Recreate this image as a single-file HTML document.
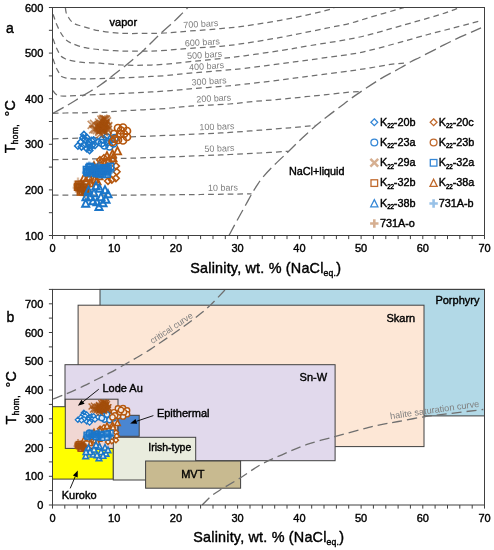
<!DOCTYPE html>
<html lang="en"><head><meta charset="utf-8"><title>Figure</title>
<style>html,body{margin:0;padding:0;background:#fff}svg{display:block;font-family:"Liberation Sans",Arial,sans-serif}text.k{stroke:#000;stroke-width:0.4px}</style>
</head><body>
<svg width="494" height="550" viewBox="0 0 494 550">
<rect width="494" height="550" fill="#ffffff"/>
<g fill="none" stroke="#6f6f6f" stroke-width="1.25" stroke-dasharray="5.7 4">
<path d="M65.4 7.9 C65.5 8.7 65.7 11.1 66.2 12.7 C66.8 14.3 67.8 16.2 68.7 17.7 C69.6 19.2 70.7 20.7 71.8 21.8 C72.9 22.9 73.9 23.4 75.3 24.1 C76.7 24.8 78.2 25.1 80.4 25.8 C82.6 26.5 85.2 27.2 88.5 28.1 C91.8 29.0 94.5 30.0 100.0 30.9 C105.5 31.8 114.5 32.9 121.8 33.3 C129.1 33.7 136.4 33.4 143.7 33.4 C151.0 33.4 157.8 33.4 165.5 33.0 C173.2 32.6 180.8 31.7 190.0 31.0 C199.2 30.3 211.5 29.4 220.6 28.6 C229.7 27.8 234.6 27.4 244.6 26.0 C254.6 24.6 269.4 22.3 280.4 20.3 C291.4 18.3 302.3 16.1 310.7 14.2 C319.1 12.3 327.1 10.1 331.0 9.1 C334.9 8.1 333.5 8.1 334.0 7.9"/>
<path d="M53.0 14.2 C53.3 14.9 54.0 17.0 54.6 18.7 C55.2 20.4 55.7 22.1 56.6 24.3 C57.5 26.5 59.0 29.6 60.1 31.6 C61.2 33.6 62.2 35.1 63.2 36.5 C64.2 37.9 65.0 39.0 66.2 40.0 C67.4 41.0 68.5 41.8 70.2 42.6 C71.9 43.5 73.8 44.2 76.3 45.1 C78.8 46.0 81.5 46.9 85.4 47.7 C89.4 48.5 93.9 49.2 100.0 49.7 C106.1 50.2 114.5 50.8 121.8 51.0 C129.1 51.2 136.4 51.3 143.7 51.2 C151.0 51.1 157.8 50.9 165.5 50.4 C173.2 49.9 180.8 49.0 190.0 48.3 C199.2 47.6 211.5 47.1 220.6 46.3 C229.7 45.5 234.6 44.8 244.6 43.3 C254.6 41.8 269.4 39.4 280.4 37.4 C291.4 35.4 302.3 33.1 310.7 31.4 C319.1 29.7 324.4 28.6 331.0 27.3 C337.6 26.0 343.4 25.0 350.0 23.3 C356.6 21.6 361.9 19.7 370.4 17.2 C378.8 14.7 395.3 10.1 400.7 8.5 C406.1 7.0 402.2 8.0 402.5 7.9"/>
<path d="M53.0 38.6 C53.3 39.4 54.0 41.6 54.6 43.2 C55.2 44.8 55.9 46.7 56.6 48.2 C57.3 49.7 57.9 50.9 58.6 52.3 C59.4 53.6 60.0 55.2 61.1 56.3 C62.2 57.4 63.7 58.1 65.2 58.8 C66.7 59.5 67.7 59.8 70.2 60.4 C72.7 61.0 77.0 61.8 80.4 62.2 C83.8 62.6 87.2 62.6 90.5 62.8 C93.8 63.0 94.8 62.8 100.0 63.2 C105.2 63.6 114.5 64.7 121.8 65.0 C129.1 65.3 136.4 65.3 143.7 65.2 C151.0 65.1 157.8 64.8 165.5 64.2 C173.2 63.6 180.4 62.6 190.0 61.6 C199.6 60.6 213.7 59.4 222.8 58.4 C231.9 57.4 235.0 57.1 244.6 55.8 C254.2 54.5 269.4 52.3 280.4 50.6 C291.4 48.9 299.6 47.4 310.7 45.5 C321.8 43.6 337.2 41.4 347.2 39.5 C357.1 37.6 361.5 36.7 370.4 34.4 C379.3 32.1 389.1 29.2 400.7 25.9 C412.3 22.6 430.5 17.5 440.0 14.6 C449.5 11.7 454.6 9.5 457.5 8.5"/>
<path d="M53.0 58.8 C53.3 59.6 54.0 61.8 54.6 63.4 C55.2 65.0 55.9 66.9 56.6 68.5 C57.4 70.1 58.3 71.7 59.1 73.0 C59.9 74.3 60.4 75.8 61.6 76.6 C62.8 77.4 64.2 77.7 66.2 78.1 C68.2 78.5 70.4 78.8 73.3 78.9 C76.2 79.0 79.0 79.0 83.4 78.9 C87.9 78.9 93.6 78.8 100.0 78.6 C106.4 78.4 114.5 78.1 121.8 77.8 C129.1 77.5 136.4 77.2 143.7 76.8 C151.0 76.4 157.8 76.2 165.5 75.6 C173.2 75.0 180.4 74.0 190.0 73.1 C199.6 72.2 213.7 71.2 222.8 70.4 C231.9 69.6 235.0 69.5 244.6 68.4 C254.2 67.3 269.4 65.2 280.4 63.8 C291.4 62.3 299.1 61.3 310.7 59.7 C322.3 58.1 340.1 55.9 350.0 54.3 C359.9 52.7 361.9 52.2 370.4 50.2 C378.8 48.2 392.3 44.4 400.7 42.1 C409.1 39.8 414.4 38.2 421.0 36.4 C427.6 34.6 430.3 33.9 440.0 31.4 C449.7 28.9 472.6 22.9 479.1 21.2"/>
<path d="M53.0 90.7 C53.5 91.3 54.6 93.4 56.0 94.3 C57.4 95.2 57.9 95.8 61.1 96.0 C64.3 96.2 68.8 95.9 75.3 95.6 C81.8 95.3 92.2 94.7 100.0 94.3 C107.8 93.9 114.5 93.7 121.8 93.4 C129.1 93.1 136.4 92.7 143.7 92.3 C151.0 91.9 157.8 91.6 165.5 91.0 C173.2 90.4 179.7 89.7 190.0 88.9 C200.3 88.1 218.0 86.8 227.1 86.0 C236.2 85.2 235.7 85.2 244.6 84.2 C253.5 83.2 269.4 81.4 280.4 80.0 C291.4 78.6 299.1 77.4 310.7 75.9 C322.3 74.4 340.1 72.2 350.0 70.9 C359.9 69.6 363.6 68.9 370.4 67.8 C377.2 66.7 384.5 65.2 390.6 64.4 C396.7 63.6 404.1 63.1 406.8 62.8"/>
<path d="M53.0 113.3 C55.0 113.2 57.4 113.2 65.2 113.0 C73.0 112.8 90.6 112.8 100.0 112.4 C109.4 112.1 114.5 111.3 121.8 110.9 C129.1 110.5 136.4 110.2 143.7 109.8 C151.0 109.4 157.8 109.1 165.5 108.5 C173.2 107.9 179.4 107.0 190.0 106.2 C200.6 105.5 218.4 104.8 229.3 104.0 C240.2 103.2 247.7 102.0 255.5 101.3 C263.3 100.6 267.1 100.4 276.3 99.6 C285.5 98.8 298.4 97.5 310.7 96.2 C323.0 95.0 341.8 92.9 350.0 92.1 C358.2 91.3 358.5 91.6 360.2 91.5"/>
<path d="M53.0 138.8 C60.8 138.6 85.5 138.1 100.0 137.7 C114.5 137.3 123.2 137.1 140.0 136.5 C156.8 135.9 185.7 134.6 200.7 133.9 C215.7 133.2 220.1 133.0 230.0 132.4 C239.9 131.8 250.0 131.0 260.0 130.2 C270.0 129.4 280.8 128.6 290.0 127.8 C299.2 127.0 311.2 125.7 315.4 125.3"/>
<path d="M53.0 159.7 C60.8 159.5 85.5 159.1 100.0 158.8 C114.5 158.5 123.2 158.4 140.0 157.9 C156.8 157.4 185.7 156.3 200.7 155.7 C215.7 155.1 220.1 154.9 230.0 154.5 C239.9 154.1 250.2 153.5 260.0 153.0 C269.8 152.5 283.8 151.6 288.5 151.3"/>
<path d="M53.0 195.2 C67.5 195.2 115.4 195.1 140.0 195.0 C164.6 194.9 182.1 194.7 200.7 194.5 C219.3 194.3 243.0 193.9 251.5 193.8"/>
</g>
<g fill="none" stroke="#6f6f6f" stroke-width="1.3" stroke-dasharray="12 5">
<path d="M53.0 113.3 C55.4 112.0 62.6 108.1 67.2 105.4 C71.8 102.7 74.9 100.7 80.4 97.3 C85.9 93.9 94.5 88.9 100.0 85.2 C105.5 81.5 108.4 79.0 113.1 75.3 C117.8 71.6 123.3 67.5 128.4 63.3 C133.5 59.1 138.6 54.9 143.7 50.2 C148.8 45.5 153.9 39.8 159.0 35.0 C164.1 30.2 170.3 24.9 174.2 21.3 C178.1 17.7 179.9 15.7 182.2 13.4 C184.5 11.1 186.9 8.6 187.8 7.6"/>
<path d="M229.0 235.5 C230.0 233.7 232.9 228.1 234.8 224.6 C236.7 221.1 238.6 217.7 240.5 214.3 C242.4 210.9 244.3 207.4 246.2 204.0 C248.1 200.6 250.1 196.8 251.9 193.7 C253.7 190.6 255.2 188.0 257.0 185.3 C258.8 182.6 260.0 180.6 262.8 177.3 C265.6 174.0 269.5 169.8 273.8 165.5 C278.1 161.2 283.8 156.0 288.5 151.5 C293.2 147.0 297.4 142.6 302.0 138.3 C306.6 134.0 311.8 129.1 316.0 125.5 C320.2 121.9 322.7 120.1 327.3 116.5 C331.9 112.9 340.1 106.9 343.9 104.0 C347.7 101.1 347.4 101.2 350.1 99.2 C352.8 97.2 355.1 95.5 360.2 92.1 C365.3 88.7 373.8 83.0 380.5 78.9 C387.2 74.9 395.6 70.7 400.7 67.8 C405.8 64.9 407.5 63.6 410.9 61.7 C414.3 59.9 416.1 59.2 421.0 56.7 C425.9 54.2 434.3 49.9 440.0 47.0 C445.7 44.1 448.2 42.7 455.0 39.5 C461.8 36.3 476.7 29.8 481.0 27.9"/>
</g>
<text x="183.6" y="28.2" font-size="9.0" fill="#7f7f7f" transform="rotate(-3.6 183.6 28.2)">700 bars</text>
<text x="185.0" y="46.4" font-size="9.0" fill="#7f7f7f" transform="rotate(-3.4 185.0 46.4)">600 bars</text>
<text x="187.3" y="59.1" font-size="9.0" fill="#7f7f7f" transform="rotate(-3.8 187.3 59.1)">500 bars</text>
<text x="189.2" y="70.4" font-size="9.0" fill="#7f7f7f" transform="rotate(-3.8 189.2 70.4)">400 bars</text>
<text x="191.8" y="85.5" font-size="9.0" fill="#7f7f7f" transform="rotate(-3.8 191.8 85.5)">300 bars</text>
<text x="196.4" y="102.4" font-size="9.0" fill="#7f7f7f" transform="rotate(-3.3 196.4 102.4)">200 bars</text>
<text x="199.5" y="130.3" font-size="9.0" fill="#7f7f7f" transform="rotate(-2 199.5 130.3)">100 bars</text>
<text x="204.4" y="152.0" font-size="9.0" fill="#7f7f7f" transform="rotate(-2 204.4 152.0)">50 bars</text>
<text x="208.0" y="191.0" font-size="9.0" fill="#7f7f7f" transform="rotate(-1 208.0 191.0)">10 bars</text>
<text x="109.6" y="25.8" font-size="11" fill="#000" class="k">vapor</text>
<text x="289" y="175.2" font-size="10.8" fill="#000" class="k">NaCl+liquid</text>
<path d="M83.9 131.4 l3.3 3.3 l-3.3 3.3 l-3.3 -3.3 z" fill="none" stroke="#1b76c9" stroke-width="1.5"/>
<path d="M83.0 134.6 l3.3 3.3 l-3.3 3.3 l-3.3 -3.3 z" fill="none" stroke="#1b76c9" stroke-width="1.5"/>
<path d="M80.9 138.8 l3.3 3.3 l-3.3 3.3 l-3.3 -3.3 z" fill="none" stroke="#1b76c9" stroke-width="1.5"/>
<path d="M77.9 142.6 l3.3 3.3 l-3.3 3.3 l-3.3 -3.3 z" fill="none" stroke="#1b76c9" stroke-width="1.5"/>
<path d="M86.5 134.0 l3.3 3.3 l-3.3 3.3 l-3.3 -3.3 z" fill="none" stroke="#1b76c9" stroke-width="1.5"/>
<path d="M84.9 136.4 l3.3 3.3 l-3.3 3.3 l-3.3 -3.3 z" fill="none" stroke="#1b76c9" stroke-width="1.5"/>
<path d="M84.0 141.7 l3.3 3.3 l-3.3 3.3 l-3.3 -3.3 z" fill="none" stroke="#1b76c9" stroke-width="1.5"/>
<path d="M81.5 143.5 l3.3 3.3 l-3.3 3.3 l-3.3 -3.3 z" fill="none" stroke="#1b76c9" stroke-width="1.5"/>
<path d="M91.5 137.2 l3.3 3.3 l-3.3 3.3 l-3.3 -3.3 z" fill="none" stroke="#1b76c9" stroke-width="1.5"/>
<path d="M89.6 139.0 l3.3 3.3 l-3.3 3.3 l-3.3 -3.3 z" fill="none" stroke="#1b76c9" stroke-width="1.5"/>
<path d="M88.9 141.4 l3.3 3.3 l-3.3 3.3 l-3.3 -3.3 z" fill="none" stroke="#1b76c9" stroke-width="1.5"/>
<path d="M86.8 145.3 l3.3 3.3 l-3.3 3.3 l-3.3 -3.3 z" fill="none" stroke="#1b76c9" stroke-width="1.5"/>
<path d="M93.6 136.8 l3.3 3.3 l-3.3 3.3 l-3.3 -3.3 z" fill="none" stroke="#1b76c9" stroke-width="1.5"/>
<path d="M92.3 141.8 l3.3 3.3 l-3.3 3.3 l-3.3 -3.3 z" fill="none" stroke="#1b76c9" stroke-width="1.5"/>
<path d="M90.2 144.4 l3.3 3.3 l-3.3 3.3 l-3.3 -3.3 z" fill="none" stroke="#1b76c9" stroke-width="1.5"/>
<path d="M89.6 147.1 l3.3 3.3 l-3.3 3.3 l-3.3 -3.3 z" fill="none" stroke="#1b76c9" stroke-width="1.5"/>
<path d="M98.0 138.5 l3.3 3.3 l-3.3 3.3 l-3.3 -3.3 z" fill="none" stroke="#1b76c9" stroke-width="1.5"/>
<path d="M95.0 142.0 l3.3 3.3 l-3.3 3.3 l-3.3 -3.3 z" fill="none" stroke="#1b76c9" stroke-width="1.5"/>
<path d="M116.0 162.7 l3.3 3.3 l-3.3 3.3 l-3.3 -3.3 z" fill="none" stroke="#b5570e" stroke-width="1.6"/>
<path d="M116.7 168.4 l3.3 3.3 l-3.3 3.3 l-3.3 -3.3 z" fill="none" stroke="#b5570e" stroke-width="1.6"/>
<path d="M115.9 174.9 l3.3 3.3 l-3.3 3.3 l-3.3 -3.3 z" fill="none" stroke="#b5570e" stroke-width="1.6"/>
<path d="M111.8 176.5 l3.3 3.3 l-3.3 3.3 l-3.3 -3.3 z" fill="none" stroke="#b5570e" stroke-width="1.6"/>
<path d="M104.0 154.7 l3.3 3.3 l-3.3 3.3 l-3.3 -3.3 z" fill="none" stroke="#b5570e" stroke-width="1.6"/>
<path d="M100.0 156.7 l3.3 3.3 l-3.3 3.3 l-3.3 -3.3 z" fill="none" stroke="#b5570e" stroke-width="1.6"/>
<path d="M112.0 156.7 l3.3 3.3 l-3.3 3.3 l-3.3 -3.3 z" fill="none" stroke="#b5570e" stroke-width="1.6"/>
<path d="M108.0 177.7 l3.3 3.3 l-3.3 3.3 l-3.3 -3.3 z" fill="none" stroke="#b5570e" stroke-width="1.6"/>
<circle cx="103.0" cy="139.5" r="3.5" fill="none" stroke="#1b76c9" stroke-width="1.7"/>
<circle cx="107.5" cy="142.0" r="3.5" fill="none" stroke="#1b76c9" stroke-width="1.7"/>
<circle cx="111.5" cy="139.0" r="3.5" fill="none" stroke="#1b76c9" stroke-width="1.7"/>
<circle cx="104.5" cy="145.5" r="3.5" fill="none" stroke="#1b76c9" stroke-width="1.7"/>
<circle cx="109.5" cy="146.5" r="3.5" fill="none" stroke="#1b76c9" stroke-width="1.7"/>
<circle cx="113.5" cy="143.5" r="3.5" fill="none" stroke="#1b76c9" stroke-width="1.7"/>
<circle cx="107.0" cy="137.5" r="3.5" fill="none" stroke="#1b76c9" stroke-width="1.7"/>
<circle cx="101.8" cy="143.0" r="3.5" fill="none" stroke="#1b76c9" stroke-width="1.7"/>
<circle cx="114.5" cy="138.0" r="3.5" fill="none" stroke="#1b76c9" stroke-width="1.7"/>
<circle cx="114.0" cy="134.0" r="3.5" fill="none" stroke="#b5570e" stroke-width="1.7"/>
<circle cx="118.0" cy="128.0" r="3.5" fill="none" stroke="#b5570e" stroke-width="1.7"/>
<circle cx="123.0" cy="127.5" r="3.5" fill="none" stroke="#b5570e" stroke-width="1.7"/>
<circle cx="127.0" cy="131.0" r="3.5" fill="none" stroke="#b5570e" stroke-width="1.7"/>
<circle cx="127.0" cy="137.0" r="3.5" fill="none" stroke="#b5570e" stroke-width="1.7"/>
<circle cx="123.0" cy="140.5" r="3.5" fill="none" stroke="#b5570e" stroke-width="1.7"/>
<circle cx="118.0" cy="140.0" r="3.5" fill="none" stroke="#b5570e" stroke-width="1.7"/>
<circle cx="120.0" cy="134.0" r="3.5" fill="none" stroke="#b5570e" stroke-width="1.7"/>
<circle cx="115.0" cy="139.0" r="3.5" fill="none" stroke="#b5570e" stroke-width="1.7"/>
<circle cx="124.0" cy="134.0" r="3.5" fill="none" stroke="#b5570e" stroke-width="1.7"/>
<circle cx="112.5" cy="142.0" r="3.5" fill="none" stroke="#b5570e" stroke-width="1.7"/>
<circle cx="121.0" cy="130.5" r="3.5" fill="none" stroke="#b5570e" stroke-width="1.7"/>
<path d="M117.5 147.1 l3.6 7.2 l-7.2 0 z" fill="none" stroke="#b5570e" stroke-width="1.8" stroke-linejoin="miter"/>
<path d="M112.5 150.1 l3.6 7.2 l-7.2 0 z" fill="none" stroke="#b5570e" stroke-width="1.8" stroke-linejoin="miter"/>
<path d="M109.0 156.1 l3.6 7.2 l-7.2 0 z" fill="none" stroke="#b5570e" stroke-width="1.8" stroke-linejoin="miter"/>
<path d="M105.0 159.1 l3.6 7.2 l-7.2 0 z" fill="none" stroke="#b5570e" stroke-width="1.8" stroke-linejoin="miter"/>
<path d="M100.0 159.1 l3.6 7.2 l-7.2 0 z" fill="none" stroke="#b5570e" stroke-width="1.8" stroke-linejoin="miter"/>
<path d="M103.0 164.1 l3.6 7.2 l-7.2 0 z" fill="none" stroke="#b5570e" stroke-width="1.8" stroke-linejoin="miter"/>
<path d="M97.0 166.1 l3.6 7.2 l-7.2 0 z" fill="none" stroke="#b5570e" stroke-width="1.8" stroke-linejoin="miter"/>
<path d="M94.0 162.1 l3.6 7.2 l-7.2 0 z" fill="none" stroke="#b5570e" stroke-width="1.8" stroke-linejoin="miter"/>
<path d="M92.0 169.1 l3.6 7.2 l-7.2 0 z" fill="none" stroke="#b5570e" stroke-width="1.8" stroke-linejoin="miter"/>
<path d="M89.0 173.1 l3.6 7.2 l-7.2 0 z" fill="none" stroke="#b5570e" stroke-width="1.8" stroke-linejoin="miter"/>
<path d="M86.0 177.1 l3.6 7.2 l-7.2 0 z" fill="none" stroke="#b5570e" stroke-width="1.8" stroke-linejoin="miter"/>
<path d="M90.0 179.1 l3.6 7.2 l-7.2 0 z" fill="none" stroke="#b5570e" stroke-width="1.8" stroke-linejoin="miter"/>
<path d="M95.0 175.1 l3.6 7.2 l-7.2 0 z" fill="none" stroke="#b5570e" stroke-width="1.8" stroke-linejoin="miter"/>
<path d="M99.0 172.1 l3.6 7.2 l-7.2 0 z" fill="none" stroke="#b5570e" stroke-width="1.8" stroke-linejoin="miter"/>
<path d="M107.0 152.1 l3.6 7.2 l-7.2 0 z" fill="none" stroke="#b5570e" stroke-width="1.8" stroke-linejoin="miter"/>
<path d="M113.0 154.1 l3.6 7.2 l-7.2 0 z" fill="none" stroke="#b5570e" stroke-width="1.8" stroke-linejoin="miter"/>
<path d="M84.0 174.1 l3.6 7.2 l-7.2 0 z" fill="none" stroke="#b5570e" stroke-width="1.8" stroke-linejoin="miter"/>
<path d="M97.0 177.1 l3.6 7.2 l-7.2 0 z" fill="none" stroke="#b5570e" stroke-width="1.8" stroke-linejoin="miter"/>
<rect x="94.1" y="165.0" width="6.4" height="6.4" fill="none" stroke="#1b76c9" stroke-width="1.6"/>
<rect x="102.7" y="168.6" width="6.4" height="6.4" fill="none" stroke="#1b76c9" stroke-width="1.6"/>
<rect x="88.9" y="167.5" width="6.4" height="6.4" fill="none" stroke="#1b76c9" stroke-width="1.6"/>
<rect x="95.9" y="170.2" width="6.4" height="6.4" fill="none" stroke="#1b76c9" stroke-width="1.6"/>
<rect x="101.0" y="164.9" width="6.4" height="6.4" fill="none" stroke="#1b76c9" stroke-width="1.6"/>
<rect x="107.3" y="163.4" width="6.4" height="6.4" fill="none" stroke="#1b76c9" stroke-width="1.6"/>
<rect x="93.3" y="169.1" width="6.4" height="6.4" fill="none" stroke="#1b76c9" stroke-width="1.6"/>
<rect x="86.6" y="166.7" width="6.4" height="6.4" fill="none" stroke="#1b76c9" stroke-width="1.6"/>
<rect x="83.8" y="168.3" width="6.4" height="6.4" fill="none" stroke="#1b76c9" stroke-width="1.6"/>
<rect x="101.9" y="167.5" width="6.4" height="6.4" fill="none" stroke="#1b76c9" stroke-width="1.6"/>
<rect x="104.7" y="165.1" width="6.4" height="6.4" fill="none" stroke="#1b76c9" stroke-width="1.6"/>
<rect x="100.2" y="167.6" width="6.4" height="6.4" fill="none" stroke="#1b76c9" stroke-width="1.6"/>
<rect x="97.3" y="166.4" width="6.4" height="6.4" fill="none" stroke="#1b76c9" stroke-width="1.6"/>
<rect x="103.8" y="170.8" width="6.4" height="6.4" fill="none" stroke="#1b76c9" stroke-width="1.6"/>
<rect x="94.7" y="168.3" width="6.4" height="6.4" fill="none" stroke="#1b76c9" stroke-width="1.6"/>
<rect x="84.3" y="168.6" width="6.4" height="6.4" fill="none" stroke="#1b76c9" stroke-width="1.6"/>
<rect x="99.0" y="171.2" width="6.4" height="6.4" fill="none" stroke="#1b76c9" stroke-width="1.6"/>
<rect x="103.3" y="164.9" width="6.4" height="6.4" fill="none" stroke="#1b76c9" stroke-width="1.6"/>
<rect x="92.4" y="168.3" width="6.4" height="6.4" fill="none" stroke="#1b76c9" stroke-width="1.6"/>
<rect x="83.4" y="166.5" width="6.4" height="6.4" fill="none" stroke="#1b76c9" stroke-width="1.6"/>
<rect x="87.0" y="163.4" width="6.4" height="6.4" fill="none" stroke="#1b76c9" stroke-width="1.6"/>
<rect x="84.3" y="169.2" width="6.4" height="6.4" fill="none" stroke="#1b76c9" stroke-width="1.6"/>
<rect x="86.0" y="164.5" width="6.4" height="6.4" fill="none" stroke="#1b76c9" stroke-width="1.6"/>
<rect x="92.6" y="170.1" width="6.4" height="6.4" fill="none" stroke="#1b76c9" stroke-width="1.6"/>
<rect x="74.6" y="183.7" width="6.4" height="6.4" fill="none" stroke="#b5570e" stroke-width="1.7"/>
<rect x="79.3" y="188.5" width="6.4" height="6.4" fill="none" stroke="#b5570e" stroke-width="1.7"/>
<rect x="82.0" y="188.3" width="6.4" height="6.4" fill="none" stroke="#b5570e" stroke-width="1.7"/>
<rect x="76.6" y="183.4" width="6.4" height="6.4" fill="none" stroke="#b5570e" stroke-width="1.7"/>
<rect x="77.4" y="188.5" width="6.4" height="6.4" fill="none" stroke="#b5570e" stroke-width="1.7"/>
<rect x="83.4" y="180.5" width="6.4" height="6.4" fill="none" stroke="#b5570e" stroke-width="1.7"/>
<rect x="75.6" y="181.4" width="6.4" height="6.4" fill="none" stroke="#b5570e" stroke-width="1.7"/>
<rect x="76.1" y="184.1" width="6.4" height="6.4" fill="none" stroke="#b5570e" stroke-width="1.7"/>
<path d="M93.6 122.6 l8.0 8.0 M101.6 122.6 l-8.0 8.0" fill="none" stroke="#a34e0c" stroke-width="1.7" opacity="0.6"/>
<path d="M101.9 120.1 l8.0 8.0 M109.9 120.1 l-8.0 8.0" fill="none" stroke="#a34e0c" stroke-width="1.7" opacity="0.6"/>
<path d="M95.3 127.9 l8.0 8.0 M103.3 127.9 l-8.0 8.0" fill="none" stroke="#a34e0c" stroke-width="1.7" opacity="0.6"/>
<path d="M102.9 117.4 l8.0 8.0 M110.9 117.4 l-8.0 8.0" fill="none" stroke="#a34e0c" stroke-width="1.7" opacity="0.6"/>
<path d="M91.0 125.3 l8.0 8.0 M99.0 125.3 l-8.0 8.0" fill="none" stroke="#a34e0c" stroke-width="1.7" opacity="0.6"/>
<path d="M96.1 121.8 l8.0 8.0 M104.1 121.8 l-8.0 8.0" fill="none" stroke="#a34e0c" stroke-width="1.7" opacity="0.6"/>
<path d="M101.5 115.5 l8.0 8.0 M109.5 115.5 l-8.0 8.0" fill="none" stroke="#a34e0c" stroke-width="1.7" opacity="0.6"/>
<path d="M100.4 115.0 l8.0 8.0 M108.4 115.0 l-8.0 8.0" fill="none" stroke="#a34e0c" stroke-width="1.7" opacity="0.6"/>
<path d="M95.1 126.6 l8.0 8.0 M103.1 126.6 l-8.0 8.0" fill="none" stroke="#a34e0c" stroke-width="1.7" opacity="0.6"/>
<path d="M103.9 122.8 l8.0 8.0 M111.9 122.8 l-8.0 8.0" fill="none" stroke="#a34e0c" stroke-width="1.7" opacity="0.6"/>
<path d="M99.1 122.2 l8.0 8.0 M107.1 122.2 l-8.0 8.0" fill="none" stroke="#a34e0c" stroke-width="1.7" opacity="0.6"/>
<path d="M99.1 124.2 l8.0 8.0 M107.1 124.2 l-8.0 8.0" fill="none" stroke="#a34e0c" stroke-width="1.7" opacity="0.6"/>
<path d="M97.1 123.9 l8.0 8.0 M105.1 123.9 l-8.0 8.0" fill="none" stroke="#a34e0c" stroke-width="1.7" opacity="0.6"/>
<path d="M99.8 121.1 l8.0 8.0 M107.8 121.1 l-8.0 8.0" fill="none" stroke="#a34e0c" stroke-width="1.7" opacity="0.6"/>
<path d="M101.7 122.7 l8.0 8.0 M109.7 122.7 l-8.0 8.0" fill="none" stroke="#a34e0c" stroke-width="1.7" opacity="0.6"/>
<path d="M94.7 122.2 l8.0 8.0 M102.7 122.2 l-8.0 8.0" fill="none" stroke="#a34e0c" stroke-width="1.7" opacity="0.6"/>
<path d="M99.0 125.8 l8.0 8.0 M107.0 125.8 l-8.0 8.0" fill="none" stroke="#a34e0c" stroke-width="1.7" opacity="0.6"/>
<path d="M96.6 124.7 l8.0 8.0 M104.6 124.7 l-8.0 8.0" fill="none" stroke="#a34e0c" stroke-width="1.7" opacity="0.6"/>
<path d="M92.8 126.1 l8.0 8.0 M100.8 126.1 l-8.0 8.0" fill="none" stroke="#a34e0c" stroke-width="1.7" opacity="0.6"/>
<path d="M99.5 122.4 l8.0 8.0 M107.5 122.4 l-8.0 8.0" fill="none" stroke="#a34e0c" stroke-width="1.7" opacity="0.6"/>
<path d="M96.7 125.8 l8.0 8.0 M104.7 125.8 l-8.0 8.0" fill="none" stroke="#a34e0c" stroke-width="1.7" opacity="0.6"/>
<path d="M97.5 120.0 l8.0 8.0 M105.5 120.0 l-8.0 8.0" fill="none" stroke="#a34e0c" stroke-width="1.7" opacity="0.6"/>
<path d="M94.7 123.5 l8.0 8.0 M102.7 123.5 l-8.0 8.0" fill="none" stroke="#a34e0c" stroke-width="1.7" opacity="0.6"/>
<path d="M96.2 122.8 l8.0 8.0 M104.2 122.8 l-8.0 8.0" fill="none" stroke="#a34e0c" stroke-width="1.7" opacity="0.6"/>
<path d="M99.5 116.0 l8.0 8.0 M107.5 116.0 l-8.0 8.0" fill="none" stroke="#a34e0c" stroke-width="1.7" opacity="0.6"/>
<path d="M98.8 126.0 l8.0 8.0 M106.8 126.0 l-8.0 8.0" fill="none" stroke="#a34e0c" stroke-width="1.7" opacity="0.6"/>
<path d="M103.9 125.7 l8.0 8.0 M111.9 125.7 l-8.0 8.0" fill="none" stroke="#a34e0c" stroke-width="1.7" opacity="0.6"/>
<path d="M89.2 125.3 l8.0 8.0 M97.2 125.3 l-8.0 8.0" fill="none" stroke="#a34e0c" stroke-width="1.7" opacity="0.6"/>
<path d="M97.0 125.5 l8.0 8.0 M105.0 125.5 l-8.0 8.0" fill="none" stroke="#a34e0c" stroke-width="1.7" opacity="0.6"/>
<path d="M99.3 114.8 l8.0 8.0 M107.3 114.8 l-8.0 8.0" fill="none" stroke="#a34e0c" stroke-width="1.7" opacity="0.6"/>
<path d="M97.4 115.6 l8.0 8.0 M105.4 115.6 l-8.0 8.0" fill="none" stroke="#a34e0c" stroke-width="1.7" opacity="0.6"/>
<path d="M100.4 126.3 l8.0 8.0 M108.4 126.3 l-8.0 8.0" fill="none" stroke="#a34e0c" stroke-width="1.7" opacity="0.6"/>
<path d="M97.0 123.5 l8.0 8.0 M105.0 123.5 l-8.0 8.0" fill="none" stroke="#a34e0c" stroke-width="1.7" opacity="0.6"/>
<path d="M101.1 121.1 l8.0 8.0 M109.1 121.1 l-8.0 8.0" fill="none" stroke="#a34e0c" stroke-width="1.7" opacity="0.6"/>
<path d="M99.9 128.1 l8.0 8.0 M107.9 128.1 l-8.0 8.0" fill="none" stroke="#a34e0c" stroke-width="1.7" opacity="0.6"/>
<path d="M101.3 119.0 l8.0 8.0 M109.3 119.0 l-8.0 8.0" fill="none" stroke="#a34e0c" stroke-width="1.7" opacity="0.6"/>
<path d="M100.8 119.4 l8.0 8.0 M108.8 119.4 l-8.0 8.0" fill="none" stroke="#a34e0c" stroke-width="1.7" opacity="0.6"/>
<path d="M99.2 124.7 l8.0 8.0 M107.2 124.7 l-8.0 8.0" fill="none" stroke="#a34e0c" stroke-width="1.7" opacity="0.6"/>
<path d="M99.5 124.2 l8.0 8.0 M107.5 124.2 l-8.0 8.0" fill="none" stroke="#a34e0c" stroke-width="1.7" opacity="0.6"/>
<path d="M87.7 120.9 l8.0 8.0 M95.7 120.9 l-8.0 8.0" fill="none" stroke="#a34e0c" stroke-width="1.7" opacity="0.6"/>
<path d="M98.2 117.6 l8.0 8.0 M106.2 117.6 l-8.0 8.0" fill="none" stroke="#a34e0c" stroke-width="1.7" opacity="0.6"/>
<path d="M90.0 119.8 l8.0 8.0 M98.0 119.8 l-8.0 8.0" fill="none" stroke="#a34e0c" stroke-width="1.7" opacity="0.6"/>
<path d="M104.3 122.1 l8.0 8.0 M112.3 122.1 l-8.0 8.0" fill="none" stroke="#a34e0c" stroke-width="1.7" opacity="0.6"/>
<path d="M102.0 115.7 l8.0 8.0 M110.0 115.7 l-8.0 8.0" fill="none" stroke="#a34e0c" stroke-width="1.7" opacity="0.6"/>
<path d="M95.1 118.5 l8.0 8.0 M103.1 118.5 l-8.0 8.0" fill="none" stroke="#a34e0c" stroke-width="1.7" opacity="0.6"/>
<path d="M103.7 126.2 l8.0 8.0 M111.7 126.2 l-8.0 8.0" fill="none" stroke="#a34e0c" stroke-width="1.7" opacity="0.6"/>
<path d="M96.4 130.1 l8.0 8.0 M104.4 130.1 l-8.0 8.0" fill="none" stroke="#a34e0c" stroke-width="1.7" opacity="0.6"/>
<path d="M101.3 119.5 l8.0 8.0 M109.3 119.5 l-8.0 8.0" fill="none" stroke="#a34e0c" stroke-width="1.7" opacity="0.6"/>
<path d="M95.7 120.6 l8.0 8.0 M103.7 120.6 l-8.0 8.0" fill="none" stroke="#a34e0c" stroke-width="1.7" opacity="0.6"/>
<path d="M99.8 123.0 l8.0 8.0 M107.8 123.0 l-8.0 8.0" fill="none" stroke="#a34e0c" stroke-width="1.7" opacity="0.6"/>
<path d="M104.4 172.8 h8.4 M108.6 168.6 v8.4" fill="none" stroke="#1b76c9" stroke-width="2.4" opacity="0.5"/>
<path d="M85.5 172.9 h8.4 M89.7 168.7 v8.4" fill="none" stroke="#1b76c9" stroke-width="2.4" opacity="0.5"/>
<path d="M106.3 171.4 h8.4 M110.5 167.2 v8.4" fill="none" stroke="#1b76c9" stroke-width="2.4" opacity="0.5"/>
<path d="M90.6 170.4 h8.4 M94.8 166.2 v8.4" fill="none" stroke="#1b76c9" stroke-width="2.4" opacity="0.5"/>
<path d="M85.1 165.6 h8.4 M89.3 161.4 v8.4" fill="none" stroke="#1b76c9" stroke-width="2.4" opacity="0.5"/>
<path d="M106.1 171.3 h8.4 M110.3 167.1 v8.4" fill="none" stroke="#1b76c9" stroke-width="2.4" opacity="0.5"/>
<path d="M95.0 173.9 h8.4 M99.2 169.7 v8.4" fill="none" stroke="#1b76c9" stroke-width="2.4" opacity="0.5"/>
<path d="M92.6 173.3 h8.4 M96.8 169.1 v8.4" fill="none" stroke="#1b76c9" stroke-width="2.4" opacity="0.5"/>
<path d="M102.5 167.4 h8.4 M106.7 163.2 v8.4" fill="none" stroke="#1b76c9" stroke-width="2.4" opacity="0.5"/>
<path d="M88.1 168.1 h8.4 M92.3 163.9 v8.4" fill="none" stroke="#1b76c9" stroke-width="2.4" opacity="0.5"/>
<path d="M87.8 170.8 h8.4 M92.0 166.6 v8.4" fill="none" stroke="#1b76c9" stroke-width="2.4" opacity="0.5"/>
<path d="M88.3 169.3 h8.4 M92.5 165.1 v8.4" fill="none" stroke="#1b76c9" stroke-width="2.4" opacity="0.5"/>
<path d="M85.1 173.7 h8.4 M89.3 169.5 v8.4" fill="none" stroke="#1b76c9" stroke-width="2.4" opacity="0.5"/>
<path d="M90.6 169.6 h8.4 M94.8 165.4 v8.4" fill="none" stroke="#1b76c9" stroke-width="2.4" opacity="0.5"/>
<path d="M96.4 173.6 h8.4 M100.6 169.4 v8.4" fill="none" stroke="#1b76c9" stroke-width="2.4" opacity="0.5"/>
<path d="M92.3 173.8 h8.4 M96.5 169.6 v8.4" fill="none" stroke="#1b76c9" stroke-width="2.4" opacity="0.5"/>
<path d="M94.3 170.3 h8.4 M98.5 166.1 v8.4" fill="none" stroke="#1b76c9" stroke-width="2.4" opacity="0.5"/>
<path d="M94.9 165.7 h8.4 M99.1 161.5 v8.4" fill="none" stroke="#1b76c9" stroke-width="2.4" opacity="0.5"/>
<path d="M92.8 167.1 h8.4 M97.0 162.9 v8.4" fill="none" stroke="#1b76c9" stroke-width="2.4" opacity="0.5"/>
<path d="M81.9 172.7 h8.4 M86.1 168.5 v8.4" fill="none" stroke="#1b76c9" stroke-width="2.4" opacity="0.5"/>
<path d="M86.1 169.8 h8.4 M90.3 165.6 v8.4" fill="none" stroke="#1b76c9" stroke-width="2.4" opacity="0.5"/>
<path d="M99.9 170.5 h8.4 M104.1 166.3 v8.4" fill="none" stroke="#1b76c9" stroke-width="2.4" opacity="0.5"/>
<path d="M89.9 170.2 h8.4 M94.1 166.0 v8.4" fill="none" stroke="#1b76c9" stroke-width="2.4" opacity="0.5"/>
<path d="M95.7 172.6 h8.4 M99.9 168.4 v8.4" fill="none" stroke="#1b76c9" stroke-width="2.4" opacity="0.5"/>
<path d="M84.5 170.5 h8.4 M88.7 166.3 v8.4" fill="none" stroke="#1b76c9" stroke-width="2.4" opacity="0.5"/>
<path d="M88.0 168.0 h8.4 M92.2 163.8 v8.4" fill="none" stroke="#1b76c9" stroke-width="2.4" opacity="0.5"/>
<path d="M101.1 170.1 h8.4 M105.3 165.9 v8.4" fill="none" stroke="#1b76c9" stroke-width="2.4" opacity="0.5"/>
<path d="M95.8 172.3 h8.4 M100.0 168.1 v8.4" fill="none" stroke="#1b76c9" stroke-width="2.4" opacity="0.5"/>
<path d="M104.6 169.5 h8.4 M108.8 165.3 v8.4" fill="none" stroke="#1b76c9" stroke-width="2.4" opacity="0.5"/>
<path d="M97.1 170.0 h8.4 M101.3 165.8 v8.4" fill="none" stroke="#1b76c9" stroke-width="2.4" opacity="0.5"/>
<path d="M72.6 187.6 h8.4 M76.8 183.4 v8.4" fill="none" stroke="#a34e0c" stroke-width="2.3" opacity="0.38"/>
<path d="M73.9 189.9 h8.4 M78.1 185.7 v8.4" fill="none" stroke="#a34e0c" stroke-width="2.3" opacity="0.38"/>
<path d="M80.7 186.9 h8.4 M84.9 182.7 v8.4" fill="none" stroke="#a34e0c" stroke-width="2.3" opacity="0.38"/>
<path d="M79.1 186.0 h8.4 M83.3 181.8 v8.4" fill="none" stroke="#a34e0c" stroke-width="2.3" opacity="0.38"/>
<path d="M80.9 191.8 h8.4 M85.1 187.6 v8.4" fill="none" stroke="#a34e0c" stroke-width="2.3" opacity="0.38"/>
<path d="M80.5 189.8 h8.4 M84.7 185.6 v8.4" fill="none" stroke="#a34e0c" stroke-width="2.3" opacity="0.38"/>
<path d="M82.9 191.4 h8.4 M87.1 187.2 v8.4" fill="none" stroke="#a34e0c" stroke-width="2.3" opacity="0.38"/>
<path d="M81.3 194.5 h8.4 M85.5 190.3 v8.4" fill="none" stroke="#a34e0c" stroke-width="2.3" opacity="0.38"/>
<path d="M77.0 185.9 h8.4 M81.2 181.7 v8.4" fill="none" stroke="#a34e0c" stroke-width="2.3" opacity="0.38"/>
<path d="M74.8 191.5 h8.4 M79.0 187.3 v8.4" fill="none" stroke="#a34e0c" stroke-width="2.3" opacity="0.38"/>
<path d="M80.1 192.5 h8.4 M84.3 188.3 v8.4" fill="none" stroke="#a34e0c" stroke-width="2.3" opacity="0.38"/>
<path d="M74.8 187.8 h8.4 M79.0 183.6 v8.4" fill="none" stroke="#a34e0c" stroke-width="2.3" opacity="0.38"/>
<path d="M79.2 192.2 h8.4 M83.4 188.0 v8.4" fill="none" stroke="#a34e0c" stroke-width="2.3" opacity="0.38"/>
<path d="M78.0 187.3 h8.4 M82.2 183.1 v8.4" fill="none" stroke="#a34e0c" stroke-width="2.3" opacity="0.38"/>
<path d="M74.4 186.5 h8.4 M78.6 182.3 v8.4" fill="none" stroke="#a34e0c" stroke-width="2.3" opacity="0.38"/>
<path d="M81.3 188.7 h8.4 M85.5 184.5 v8.4" fill="none" stroke="#a34e0c" stroke-width="2.3" opacity="0.38"/>
<path d="M75.0 184.2 h8.4 M79.2 180.0 v8.4" fill="none" stroke="#a34e0c" stroke-width="2.3" opacity="0.38"/>
<path d="M80.3 190.5 h8.4 M84.5 186.3 v8.4" fill="none" stroke="#a34e0c" stroke-width="2.3" opacity="0.38"/>
<path d="M84.2 190.3 h8.4 M88.4 186.1 v8.4" fill="none" stroke="#a34e0c" stroke-width="2.3" opacity="0.38"/>
<path d="M77.9 190.7 h8.4 M82.1 186.5 v8.4" fill="none" stroke="#a34e0c" stroke-width="2.3" opacity="0.38"/>
<path d="M79.3 184.8 h8.4 M83.5 180.6 v8.4" fill="none" stroke="#a34e0c" stroke-width="2.3" opacity="0.38"/>
<path d="M73.1 185.0 h8.4 M77.3 180.8 v8.4" fill="none" stroke="#a34e0c" stroke-width="2.3" opacity="0.38"/>
<path d="M79.1 189.1 h8.4 M83.3 184.9 v8.4" fill="none" stroke="#a34e0c" stroke-width="2.3" opacity="0.38"/>
<path d="M76.7 183.5 h8.4 M80.9 179.3 v8.4" fill="none" stroke="#a34e0c" stroke-width="2.3" opacity="0.38"/>
<path d="M73.8 181.7 h8.4 M78.0 177.5 v8.4" fill="none" stroke="#a34e0c" stroke-width="2.3" opacity="0.38"/>
<path d="M84.2 192.9 h8.4 M88.4 188.7 v8.4" fill="none" stroke="#a34e0c" stroke-width="2.3" opacity="0.38"/>
<path d="M75.0 189.5 h8.4 M79.2 185.3 v8.4" fill="none" stroke="#a34e0c" stroke-width="2.3" opacity="0.38"/>
<path d="M77.9 190.7 h8.4 M82.1 186.5 v8.4" fill="none" stroke="#a34e0c" stroke-width="2.3" opacity="0.38"/>
<path d="M75.5 187.6 h8.4 M79.7 183.4 v8.4" fill="none" stroke="#a34e0c" stroke-width="2.3" opacity="0.38"/>
<path d="M79.8 190.0 h8.4 M84.0 185.8 v8.4" fill="none" stroke="#a34e0c" stroke-width="2.3" opacity="0.38"/>
<path d="M80.4 189.2 h8.4 M84.6 185.0 v8.4" fill="none" stroke="#a34e0c" stroke-width="2.3" opacity="0.38"/>
<path d="M76.9 192.0 h8.4 M81.1 187.8 v8.4" fill="none" stroke="#a34e0c" stroke-width="2.3" opacity="0.38"/>
<path d="M78.3 184.2 h8.4 M82.5 180.0 v8.4" fill="none" stroke="#a34e0c" stroke-width="2.3" opacity="0.38"/>
<path d="M75.8 188.2 h8.4 M80.0 184.0 v8.4" fill="none" stroke="#a34e0c" stroke-width="2.3" opacity="0.38"/>
<path d="M77.7 189.0 h8.4 M81.9 184.8 v8.4" fill="none" stroke="#a34e0c" stroke-width="2.3" opacity="0.38"/>
<path d="M78.1 189.0 h8.4 M82.3 184.8 v8.4" fill="none" stroke="#a34e0c" stroke-width="2.3" opacity="0.38"/>
<path d="M85.7 199.6 l3.6 7.2 l-7.2 0 z" fill="none" stroke="#1b76c9" stroke-width="1.9" stroke-linejoin="miter"/>
<path d="M99.0 202.8 l3.6 7.2 l-7.2 0 z" fill="none" stroke="#1b76c9" stroke-width="1.9" stroke-linejoin="miter"/>
<path d="M93.0 197.1 l3.6 7.2 l-7.2 0 z" fill="none" stroke="#1b76c9" stroke-width="1.9" stroke-linejoin="miter"/>
<path d="M106.0 195.6 l3.6 7.2 l-7.2 0 z" fill="none" stroke="#1b76c9" stroke-width="1.9" stroke-linejoin="miter"/>
<path d="M88.5 186.6 l3.6 7.2 l-7.2 0 z" fill="none" stroke="#1b76c9" stroke-width="1.9" stroke-linejoin="miter"/>
<path d="M99.5 184.6 l3.6 7.2 l-7.2 0 z" fill="none" stroke="#1b76c9" stroke-width="1.9" stroke-linejoin="miter"/>
<path d="M105.0 186.1 l3.6 7.2 l-7.2 0 z" fill="none" stroke="#1b76c9" stroke-width="1.9" stroke-linejoin="miter"/>
<path d="M94.0 189.1 l3.6 7.2 l-7.2 0 z" fill="none" stroke="#1b76c9" stroke-width="1.9" stroke-linejoin="miter"/>
<path d="M101.0 193.1 l3.6 7.2 l-7.2 0 z" fill="none" stroke="#1b76c9" stroke-width="1.9" stroke-linejoin="miter"/>
<path d="M90.0 193.1 l3.6 7.2 l-7.2 0 z" fill="none" stroke="#1b76c9" stroke-width="1.9" stroke-linejoin="miter"/>
<path d="M96.0 182.1 l3.6 7.2 l-7.2 0 z" fill="none" stroke="#1b76c9" stroke-width="1.9" stroke-linejoin="miter"/>
<path d="M103.0 199.1 l3.6 7.2 l-7.2 0 z" fill="none" stroke="#1b76c9" stroke-width="1.9" stroke-linejoin="miter"/>
<path d="M86.0 193.1 l3.6 7.2 l-7.2 0 z" fill="none" stroke="#1b76c9" stroke-width="1.9" stroke-linejoin="miter"/>
<path d="M108.0 190.1 l3.6 7.2 l-7.2 0 z" fill="none" stroke="#1b76c9" stroke-width="1.9" stroke-linejoin="miter"/>
<path d="M97.0 198.1 l3.6 7.2 l-7.2 0 z" fill="none" stroke="#1b76c9" stroke-width="1.9" stroke-linejoin="miter"/>
<rect x="52.5" y="7.5" width="432.0" height="228.0" fill="none" stroke="#404040" stroke-width="1"/>
<path d="M52.5 235.5 v3.6 M64.8 235.5 v3.6 M77.2 235.5 v3.6 M89.5 235.5 v3.6 M101.9 235.5 v3.6 M114.2 235.5 v3.6 M126.6 235.5 v3.6 M138.9 235.5 v3.6 M151.2 235.5 v3.6 M163.6 235.5 v3.6 M175.9 235.5 v3.6 M188.3 235.5 v3.6 M200.6 235.5 v3.6 M213.0 235.5 v3.6 M225.3 235.5 v3.6 M237.6 235.5 v3.6 M250.0 235.5 v3.6 M262.3 235.5 v3.6 M274.7 235.5 v3.6 M287.0 235.5 v3.6 M299.4 235.5 v3.6 M311.7 235.5 v3.6 M324.0 235.5 v3.6 M336.4 235.5 v3.6 M348.7 235.5 v3.6 M361.1 235.5 v3.6 M373.4 235.5 v3.6 M385.8 235.5 v3.6 M398.1 235.5 v3.6 M410.4 235.5 v3.6 M422.8 235.5 v3.6 M435.1 235.5 v3.6 M447.5 235.5 v3.6 M459.8 235.5 v3.6 M472.2 235.5 v3.6 M484.5 235.5 v3.6 M52.5 235.5 h-3.6 M52.5 212.7 h-3.6 M52.5 189.9 h-3.6 M52.5 167.1 h-3.6 M52.5 144.3 h-3.6 M52.5 121.5 h-3.6 M52.5 98.7 h-3.6 M52.5 75.9 h-3.6 M52.5 53.1 h-3.6 M52.5 30.3 h-3.6 M52.5 7.5 h-3.6" stroke="#404040" stroke-width="1" fill="none"/>
<text x="52.5" y="252.3" font-size="11" text-anchor="middle" fill="#000" class="k">0</text>
<text x="114.2" y="252.3" font-size="11" text-anchor="middle" fill="#000" class="k">10</text>
<text x="175.9" y="252.3" font-size="11" text-anchor="middle" fill="#000" class="k">20</text>
<text x="237.6" y="252.3" font-size="11" text-anchor="middle" fill="#000" class="k">30</text>
<text x="299.4" y="252.3" font-size="11" text-anchor="middle" fill="#000" class="k">40</text>
<text x="361.1" y="252.3" font-size="11" text-anchor="middle" fill="#000" class="k">50</text>
<text x="422.8" y="252.3" font-size="11" text-anchor="middle" fill="#000" class="k">60</text>
<text x="484.5" y="252.3" font-size="11" text-anchor="middle" fill="#000" class="k">70</text>
<text x="43.3" y="239.6" font-size="11" text-anchor="end" fill="#000" class="k">100</text>
<text x="43.3" y="194.0" font-size="11" text-anchor="end" fill="#000" class="k">200</text>
<text x="43.3" y="148.4" font-size="11" text-anchor="end" fill="#000" class="k">300</text>
<text x="43.3" y="102.7" font-size="11" text-anchor="end" fill="#000" class="k">400</text>
<text x="43.3" y="57.1" font-size="11" text-anchor="end" fill="#000" class="k">500</text>
<text x="43.3" y="11.6" font-size="11" text-anchor="end" fill="#000" class="k">600</text>
<text x="6.0" y="32.9" font-size="14" fill="#000" class="k">a</text>
<text transform="translate(15.3 153.3) rotate(-90)" font-size="14.4" letter-spacing="0.25" fill="#000" class="k">T<tspan font-size="8.2" dy="3" letter-spacing="0.55">hom,</tspan><tspan dy="-3" dx="3.2"> °C</tspan></text>
<text x="190.3" y="272.7" font-size="14.4" letter-spacing="0.19" fill="#000" class="k">Salinity, wt. % (NaCl<tspan font-size="8.6" dy="3" letter-spacing="0.2">eq.</tspan><tspan dy="-3">)</tspan></text>
<path d="M374.3 118.8 l3.4 3.4 l-3.4 3.4 l-3.4 -3.4 z" fill="#fff" stroke="#3587d6" stroke-width="1.3"/>
<text x="379.9" y="125.5" font-size="10.85" fill="#000" class="k">K<tspan font-size="6.3" dy="2.5" letter-spacing="-0.15">22</tspan><tspan dy="-2.5">-20b</tspan></text>
<path d="M433.6 118.8 l3.4 3.4 l-3.4 3.4 l-3.4 -3.4 z" fill="#fff" stroke="#c0692c" stroke-width="1.3"/>
<text x="438.7" y="125.5" font-size="10.85" fill="#000" class="k">K<tspan font-size="6.3" dy="2.5" letter-spacing="-0.15">22</tspan><tspan dy="-2.5">-20c</tspan></text>
<circle cx="374.3" cy="142.5" r="3.4" fill="#fff" stroke="#3587d6" stroke-width="1.3"/>
<text x="379.9" y="145.8" font-size="10.85" fill="#000" class="k">K<tspan font-size="6.3" dy="2.5" letter-spacing="-0.15">22</tspan><tspan dy="-2.5">-23a</tspan></text>
<circle cx="433.6" cy="142.5" r="3.4" fill="#fff" stroke="#c0692c" stroke-width="1.3"/>
<text x="438.7" y="145.8" font-size="10.85" fill="#000" class="k">K<tspan font-size="6.3" dy="2.5" letter-spacing="-0.15">22</tspan><tspan dy="-2.5">-23b</tspan></text>
<path d="M370.4 158.9 l7.8 7.8 M378.2 158.9 l-7.8 7.8" fill="none" stroke="#a34e0c" stroke-width="2.5" opacity="0.45"/>
<text x="379.9" y="166.1" font-size="10.85" fill="#000" class="k">K<tspan font-size="6.3" dy="2.5" letter-spacing="-0.15">22</tspan><tspan dy="-2.5">-29a</tspan></text>
<rect x="430.3" y="159.5" width="6.6" height="6.6" fill="#fff" stroke="#3587d6" stroke-width="1.3"/>
<text x="438.7" y="166.1" font-size="10.85" fill="#000" class="k">K<tspan font-size="6.3" dy="2.5" letter-spacing="-0.15">22</tspan><tspan dy="-2.5">-32a</tspan></text>
<rect x="371.0" y="179.8" width="6.6" height="6.6" fill="#fff" stroke="#c0692c" stroke-width="1.3"/>
<text x="379.9" y="186.4" font-size="10.85" fill="#000" class="k">K<tspan font-size="6.3" dy="2.5" letter-spacing="-0.15">22</tspan><tspan dy="-2.5">-32b</tspan></text>
<path d="M433.6 179.2 l3.6 7.2 l-7.2 0 z" fill="#fff" stroke="#c0692c" stroke-width="1.3" stroke-linejoin="miter"/>
<text x="438.7" y="186.4" font-size="10.85" fill="#000" class="k">K<tspan font-size="6.3" dy="2.5" letter-spacing="-0.15">22</tspan><tspan dy="-2.5">-38a</tspan></text>
<path d="M374.3 199.6 l3.6 7.2 l-7.2 0 z" fill="#fff" stroke="#3587d6" stroke-width="1.3" stroke-linejoin="miter"/>
<text x="379.9" y="206.8" font-size="10.85" fill="#000" class="k">K<tspan font-size="6.3" dy="2.5" letter-spacing="-0.15">22</tspan><tspan dy="-2.5">-38b</tspan></text>
<path d="M429.4 203.5 h8.4 M433.6 199.3 v8.4" fill="none" stroke="#1b76c9" stroke-width="2.6" opacity="0.45"/>
<text x="438.7" y="206.8" font-size="10.85" fill="#000" class="k">731A-b</text>
<path d="M370.1 223.5 h8.4 M374.3 219.3 v8.4" fill="none" stroke="#a34e0c" stroke-width="2.6" opacity="0.45"/>
<text x="379.9" y="226.8" font-size="10.85" fill="#000" class="k">731A-o</text>
<rect x="100.0" y="289.4" width="384.5" height="126.5" fill="#b2d9e7" stroke="#404040" stroke-width="1"/>
<rect x="78.1" y="305.2" width="345.9" height="141.4" fill="#fde7d6" stroke="#404040" stroke-width="1"/>
<rect x="65.0" y="364.7" width="270.1" height="96.0" fill="#e1d9ec" stroke="#404040" stroke-width="1"/>
<rect x="52.5" y="406.7" width="60.8" height="72.4" fill="#ffff00" stroke="#404040" stroke-width="1"/>
<rect x="65.3" y="399.2" width="52.7" height="49.2" fill="#f1d7d3" stroke="#404040" stroke-width="1"/>
<rect x="118.0" y="415.3" width="21.2" height="21.0" fill="#4a86d2" stroke="#404040" stroke-width="1"/>
<rect x="113.3" y="437.3" width="82.4" height="42.7" fill="#e9ecde" stroke="#404040" stroke-width="1"/>
<rect x="145.6" y="461.0" width="95.0" height="27.2" fill="#c8ba90" stroke="#404040" stroke-width="1"/>
<g fill="none" stroke="#6f6f6f" stroke-width="1.3" stroke-dasharray="10 5">
<path d="M53.0 399.0 C55.0 398.2 60.6 396.2 65.2 394.3 C69.8 392.4 75.2 390.1 80.4 387.6 C85.6 385.1 91.5 382.0 96.6 379.5 C101.6 377.0 105.7 375.1 110.7 372.4 C115.8 369.7 122.2 366.0 126.9 363.3 C131.6 360.6 135.2 358.5 139.1 356.2 C142.9 353.9 146.5 351.9 150.0 349.6 C153.5 347.4 155.1 346.2 160.2 342.7 C165.3 339.2 173.8 333.6 180.5 328.8 C187.2 324.0 195.6 317.6 200.7 313.6 C205.8 309.6 206.8 308.5 210.9 304.6 C215.0 300.7 222.7 292.4 225.0 290.0"/>
<path d="M202.3 505.0 C203.8 503.6 208.0 498.8 211.0 496.3 C214.0 493.8 215.5 492.9 220.4 489.8 C225.3 486.7 233.8 481.9 240.6 477.7 C247.3 473.5 254.0 468.3 260.9 464.5 C267.8 460.7 274.4 458.1 282.0 454.8 C289.6 451.5 297.5 447.7 306.3 444.7 C315.1 441.7 325.6 439.1 334.7 436.6 C343.8 434.1 353.4 431.5 361.0 429.5 C368.6 427.5 373.8 426.1 380.0 424.8 C386.2 423.5 391.0 422.8 398.3 421.5 C405.6 420.2 415.7 418.1 423.8 416.8 C431.9 415.5 437.0 415.1 446.9 413.9 C456.8 412.7 477.2 410.2 483.3 409.5"/>
</g>
<text x="152.5" y="344.0" font-size="8.85" fill="#7f7f7f" transform="rotate(-33.3 152.5 344.0)">critical curve</text>
<text x="390.5" y="419.2" font-size="9.2" fill="#7f7f7f" transform="rotate(-8.0 390.5 419.2)">halite saturation curve</text>
<path d="M83.9 410.2 l2.6 2.6 l-2.6 2.6 l-2.6 -2.6 z" fill="rgba(255,255,255,0.85)" stroke="#1b76c9" stroke-width="1.27"/>
<path d="M83.0 412.2 l2.6 2.6 l-2.6 2.6 l-2.6 -2.6 z" fill="rgba(255,255,255,0.85)" stroke="#1b76c9" stroke-width="1.27"/>
<path d="M80.9 414.8 l2.6 2.6 l-2.6 2.6 l-2.6 -2.6 z" fill="rgba(255,255,255,0.85)" stroke="#1b76c9" stroke-width="1.27"/>
<path d="M77.9 417.2 l2.6 2.6 l-2.6 2.6 l-2.6 -2.6 z" fill="rgba(255,255,255,0.85)" stroke="#1b76c9" stroke-width="1.27"/>
<path d="M86.5 411.8 l2.6 2.6 l-2.6 2.6 l-2.6 -2.6 z" fill="rgba(255,255,255,0.85)" stroke="#1b76c9" stroke-width="1.27"/>
<path d="M84.9 413.3 l2.6 2.6 l-2.6 2.6 l-2.6 -2.6 z" fill="rgba(255,255,255,0.85)" stroke="#1b76c9" stroke-width="1.27"/>
<path d="M84.0 416.6 l2.6 2.6 l-2.6 2.6 l-2.6 -2.6 z" fill="rgba(255,255,255,0.85)" stroke="#1b76c9" stroke-width="1.27"/>
<path d="M81.5 417.7 l2.6 2.6 l-2.6 2.6 l-2.6 -2.6 z" fill="rgba(255,255,255,0.85)" stroke="#1b76c9" stroke-width="1.27"/>
<path d="M91.5 413.8 l2.6 2.6 l-2.6 2.6 l-2.6 -2.6 z" fill="rgba(255,255,255,0.85)" stroke="#1b76c9" stroke-width="1.27"/>
<path d="M89.6 414.9 l2.6 2.6 l-2.6 2.6 l-2.6 -2.6 z" fill="rgba(255,255,255,0.85)" stroke="#1b76c9" stroke-width="1.27"/>
<path d="M88.9 416.4 l2.6 2.6 l-2.6 2.6 l-2.6 -2.6 z" fill="rgba(255,255,255,0.85)" stroke="#1b76c9" stroke-width="1.27"/>
<path d="M86.8 418.9 l2.6 2.6 l-2.6 2.6 l-2.6 -2.6 z" fill="rgba(255,255,255,0.85)" stroke="#1b76c9" stroke-width="1.27"/>
<path d="M93.6 413.6 l2.6 2.6 l-2.6 2.6 l-2.6 -2.6 z" fill="rgba(255,255,255,0.85)" stroke="#1b76c9" stroke-width="1.27"/>
<path d="M92.3 416.7 l2.6 2.6 l-2.6 2.6 l-2.6 -2.6 z" fill="rgba(255,255,255,0.85)" stroke="#1b76c9" stroke-width="1.27"/>
<path d="M90.2 418.4 l2.6 2.6 l-2.6 2.6 l-2.6 -2.6 z" fill="rgba(255,255,255,0.85)" stroke="#1b76c9" stroke-width="1.27"/>
<path d="M89.6 420.0 l2.6 2.6 l-2.6 2.6 l-2.6 -2.6 z" fill="rgba(255,255,255,0.85)" stroke="#1b76c9" stroke-width="1.27"/>
<path d="M98.0 414.6 l2.6 2.6 l-2.6 2.6 l-2.6 -2.6 z" fill="rgba(255,255,255,0.85)" stroke="#1b76c9" stroke-width="1.27"/>
<path d="M95.0 416.8 l2.6 2.6 l-2.6 2.6 l-2.6 -2.6 z" fill="rgba(255,255,255,0.85)" stroke="#1b76c9" stroke-width="1.27"/>
<path d="M116.0 429.9 l2.6 2.6 l-2.6 2.6 l-2.6 -2.6 z" fill="rgba(255,255,255,0.85)" stroke="#b5570e" stroke-width="1.36"/>
<path d="M116.7 433.5 l2.6 2.6 l-2.6 2.6 l-2.6 -2.6 z" fill="rgba(255,255,255,0.85)" stroke="#b5570e" stroke-width="1.36"/>
<path d="M115.9 437.6 l2.6 2.6 l-2.6 2.6 l-2.6 -2.6 z" fill="rgba(255,255,255,0.85)" stroke="#b5570e" stroke-width="1.36"/>
<path d="M111.8 438.6 l2.6 2.6 l-2.6 2.6 l-2.6 -2.6 z" fill="rgba(255,255,255,0.85)" stroke="#b5570e" stroke-width="1.36"/>
<path d="M104.0 424.8 l2.6 2.6 l-2.6 2.6 l-2.6 -2.6 z" fill="rgba(255,255,255,0.85)" stroke="#b5570e" stroke-width="1.36"/>
<path d="M100.0 426.1 l2.6 2.6 l-2.6 2.6 l-2.6 -2.6 z" fill="rgba(255,255,255,0.85)" stroke="#b5570e" stroke-width="1.36"/>
<path d="M112.0 426.1 l2.6 2.6 l-2.6 2.6 l-2.6 -2.6 z" fill="rgba(255,255,255,0.85)" stroke="#b5570e" stroke-width="1.36"/>
<path d="M108.0 439.3 l2.6 2.6 l-2.6 2.6 l-2.6 -2.6 z" fill="rgba(255,255,255,0.85)" stroke="#b5570e" stroke-width="1.36"/>
<circle cx="103.0" cy="415.7" r="2.7" fill="rgba(255,255,255,0.85)" stroke="#1b76c9" stroke-width="1.44"/>
<circle cx="107.5" cy="417.3" r="2.7" fill="rgba(255,255,255,0.85)" stroke="#1b76c9" stroke-width="1.44"/>
<circle cx="111.5" cy="415.4" r="2.7" fill="rgba(255,255,255,0.85)" stroke="#1b76c9" stroke-width="1.44"/>
<circle cx="104.5" cy="419.5" r="2.7" fill="rgba(255,255,255,0.85)" stroke="#1b76c9" stroke-width="1.44"/>
<circle cx="109.5" cy="420.1" r="2.7" fill="rgba(255,255,255,0.85)" stroke="#1b76c9" stroke-width="1.44"/>
<circle cx="113.5" cy="418.3" r="2.7" fill="rgba(255,255,255,0.85)" stroke="#1b76c9" stroke-width="1.44"/>
<circle cx="107.0" cy="414.5" r="2.7" fill="rgba(255,255,255,0.85)" stroke="#1b76c9" stroke-width="1.44"/>
<circle cx="101.8" cy="417.9" r="2.7" fill="rgba(255,255,255,0.85)" stroke="#1b76c9" stroke-width="1.44"/>
<circle cx="114.5" cy="414.8" r="2.7" fill="rgba(255,255,255,0.85)" stroke="#1b76c9" stroke-width="1.44"/>
<circle cx="114.0" cy="412.3" r="2.7" fill="rgba(255,255,255,0.85)" stroke="#b5570e" stroke-width="1.44"/>
<circle cx="118.0" cy="408.5" r="2.7" fill="rgba(255,255,255,0.85)" stroke="#b5570e" stroke-width="1.44"/>
<circle cx="123.0" cy="408.2" r="2.7" fill="rgba(255,255,255,0.85)" stroke="#b5570e" stroke-width="1.44"/>
<circle cx="127.0" cy="410.4" r="2.7" fill="rgba(255,255,255,0.85)" stroke="#b5570e" stroke-width="1.44"/>
<circle cx="127.0" cy="414.2" r="2.7" fill="rgba(255,255,255,0.85)" stroke="#b5570e" stroke-width="1.44"/>
<circle cx="123.0" cy="416.4" r="2.7" fill="rgba(255,255,255,0.85)" stroke="#b5570e" stroke-width="1.44"/>
<circle cx="118.0" cy="416.0" r="2.7" fill="rgba(255,255,255,0.85)" stroke="#b5570e" stroke-width="1.44"/>
<circle cx="120.0" cy="412.3" r="2.7" fill="rgba(255,255,255,0.85)" stroke="#b5570e" stroke-width="1.44"/>
<circle cx="115.0" cy="415.4" r="2.7" fill="rgba(255,255,255,0.85)" stroke="#b5570e" stroke-width="1.44"/>
<circle cx="124.0" cy="412.3" r="2.7" fill="rgba(255,255,255,0.85)" stroke="#b5570e" stroke-width="1.44"/>
<circle cx="112.5" cy="417.3" r="2.7" fill="rgba(255,255,255,0.85)" stroke="#b5570e" stroke-width="1.44"/>
<circle cx="121.0" cy="410.1" r="2.7" fill="rgba(255,255,255,0.85)" stroke="#b5570e" stroke-width="1.44"/>
<path d="M117.5 419.9 l2.8 5.6 l-5.6 0 z" fill="rgba(255,255,255,0.85)" stroke="#b5570e" stroke-width="1.53" stroke-linejoin="miter"/>
<path d="M112.5 421.8 l2.8 5.6 l-5.6 0 z" fill="rgba(255,255,255,0.85)" stroke="#b5570e" stroke-width="1.53" stroke-linejoin="miter"/>
<path d="M109.0 425.5 l2.8 5.6 l-5.6 0 z" fill="rgba(255,255,255,0.85)" stroke="#b5570e" stroke-width="1.53" stroke-linejoin="miter"/>
<path d="M105.0 427.4 l2.8 5.6 l-5.6 0 z" fill="rgba(255,255,255,0.85)" stroke="#b5570e" stroke-width="1.53" stroke-linejoin="miter"/>
<path d="M100.0 427.4 l2.8 5.6 l-5.6 0 z" fill="rgba(255,255,255,0.85)" stroke="#b5570e" stroke-width="1.53" stroke-linejoin="miter"/>
<path d="M103.0 430.6 l2.8 5.6 l-5.6 0 z" fill="rgba(255,255,255,0.85)" stroke="#b5570e" stroke-width="1.53" stroke-linejoin="miter"/>
<path d="M97.0 431.9 l2.8 5.6 l-5.6 0 z" fill="rgba(255,255,255,0.85)" stroke="#b5570e" stroke-width="1.53" stroke-linejoin="miter"/>
<path d="M94.0 429.3 l2.8 5.6 l-5.6 0 z" fill="rgba(255,255,255,0.85)" stroke="#b5570e" stroke-width="1.53" stroke-linejoin="miter"/>
<path d="M92.0 433.7 l2.8 5.6 l-5.6 0 z" fill="rgba(255,255,255,0.85)" stroke="#b5570e" stroke-width="1.53" stroke-linejoin="miter"/>
<path d="M89.0 436.3 l2.8 5.6 l-5.6 0 z" fill="rgba(255,255,255,0.85)" stroke="#b5570e" stroke-width="1.53" stroke-linejoin="miter"/>
<path d="M86.0 438.8 l2.8 5.6 l-5.6 0 z" fill="rgba(255,255,255,0.85)" stroke="#b5570e" stroke-width="1.53" stroke-linejoin="miter"/>
<path d="M90.0 440.0 l2.8 5.6 l-5.6 0 z" fill="rgba(255,255,255,0.85)" stroke="#b5570e" stroke-width="1.53" stroke-linejoin="miter"/>
<path d="M95.0 437.5 l2.8 5.6 l-5.6 0 z" fill="rgba(255,255,255,0.85)" stroke="#b5570e" stroke-width="1.53" stroke-linejoin="miter"/>
<path d="M99.0 435.6 l2.8 5.6 l-5.6 0 z" fill="rgba(255,255,255,0.85)" stroke="#b5570e" stroke-width="1.53" stroke-linejoin="miter"/>
<path d="M107.0 423.0 l2.8 5.6 l-5.6 0 z" fill="rgba(255,255,255,0.85)" stroke="#b5570e" stroke-width="1.53" stroke-linejoin="miter"/>
<path d="M113.0 424.3 l2.8 5.6 l-5.6 0 z" fill="rgba(255,255,255,0.85)" stroke="#b5570e" stroke-width="1.53" stroke-linejoin="miter"/>
<path d="M84.0 436.9 l2.8 5.6 l-5.6 0 z" fill="rgba(255,255,255,0.85)" stroke="#b5570e" stroke-width="1.53" stroke-linejoin="miter"/>
<path d="M97.0 438.8 l2.8 5.6 l-5.6 0 z" fill="rgba(255,255,255,0.85)" stroke="#b5570e" stroke-width="1.53" stroke-linejoin="miter"/>
<rect x="94.8" y="431.3" width="5.0" height="5.0" fill="rgba(255,255,255,0.85)" stroke="#1b76c9" stroke-width="1.36"/>
<rect x="103.4" y="433.6" width="5.0" height="5.0" fill="rgba(255,255,255,0.85)" stroke="#1b76c9" stroke-width="1.36"/>
<rect x="89.6" y="432.9" width="5.0" height="5.0" fill="rgba(255,255,255,0.85)" stroke="#1b76c9" stroke-width="1.36"/>
<rect x="96.6" y="434.6" width="5.0" height="5.0" fill="rgba(255,255,255,0.85)" stroke="#1b76c9" stroke-width="1.36"/>
<rect x="101.7" y="431.3" width="5.0" height="5.0" fill="rgba(255,255,255,0.85)" stroke="#1b76c9" stroke-width="1.36"/>
<rect x="108.0" y="430.3" width="5.0" height="5.0" fill="rgba(255,255,255,0.85)" stroke="#1b76c9" stroke-width="1.36"/>
<rect x="94.0" y="433.9" width="5.0" height="5.0" fill="rgba(255,255,255,0.85)" stroke="#1b76c9" stroke-width="1.36"/>
<rect x="87.3" y="432.4" width="5.0" height="5.0" fill="rgba(255,255,255,0.85)" stroke="#1b76c9" stroke-width="1.36"/>
<rect x="84.5" y="433.4" width="5.0" height="5.0" fill="rgba(255,255,255,0.85)" stroke="#1b76c9" stroke-width="1.36"/>
<rect x="102.6" y="432.9" width="5.0" height="5.0" fill="rgba(255,255,255,0.85)" stroke="#1b76c9" stroke-width="1.36"/>
<rect x="105.4" y="431.4" width="5.0" height="5.0" fill="rgba(255,255,255,0.85)" stroke="#1b76c9" stroke-width="1.36"/>
<rect x="100.9" y="433.0" width="5.0" height="5.0" fill="rgba(255,255,255,0.85)" stroke="#1b76c9" stroke-width="1.36"/>
<rect x="98.0" y="432.2" width="5.0" height="5.0" fill="rgba(255,255,255,0.85)" stroke="#1b76c9" stroke-width="1.36"/>
<rect x="104.5" y="435.0" width="5.0" height="5.0" fill="rgba(255,255,255,0.85)" stroke="#1b76c9" stroke-width="1.36"/>
<rect x="95.4" y="433.4" width="5.0" height="5.0" fill="rgba(255,255,255,0.85)" stroke="#1b76c9" stroke-width="1.36"/>
<rect x="85.0" y="433.6" width="5.0" height="5.0" fill="rgba(255,255,255,0.85)" stroke="#1b76c9" stroke-width="1.36"/>
<rect x="99.7" y="435.3" width="5.0" height="5.0" fill="rgba(255,255,255,0.85)" stroke="#1b76c9" stroke-width="1.36"/>
<rect x="104.1" y="431.2" width="5.0" height="5.0" fill="rgba(255,255,255,0.85)" stroke="#1b76c9" stroke-width="1.36"/>
<rect x="93.1" y="433.4" width="5.0" height="5.0" fill="rgba(255,255,255,0.85)" stroke="#1b76c9" stroke-width="1.36"/>
<rect x="84.1" y="432.2" width="5.0" height="5.0" fill="rgba(255,255,255,0.85)" stroke="#1b76c9" stroke-width="1.36"/>
<rect x="87.7" y="430.3" width="5.0" height="5.0" fill="rgba(255,255,255,0.85)" stroke="#1b76c9" stroke-width="1.36"/>
<rect x="85.0" y="434.0" width="5.0" height="5.0" fill="rgba(255,255,255,0.85)" stroke="#1b76c9" stroke-width="1.36"/>
<rect x="86.7" y="431.0" width="5.0" height="5.0" fill="rgba(255,255,255,0.85)" stroke="#1b76c9" stroke-width="1.36"/>
<rect x="93.3" y="434.6" width="5.0" height="5.0" fill="rgba(255,255,255,0.85)" stroke="#1b76c9" stroke-width="1.36"/>
<rect x="75.3" y="443.1" width="5.0" height="5.0" fill="rgba(255,255,255,0.85)" stroke="#b5570e" stroke-width="1.44"/>
<rect x="80.0" y="446.2" width="5.0" height="5.0" fill="rgba(255,255,255,0.85)" stroke="#b5570e" stroke-width="1.44"/>
<rect x="82.7" y="446.0" width="5.0" height="5.0" fill="rgba(255,255,255,0.85)" stroke="#b5570e" stroke-width="1.44"/>
<rect x="77.3" y="442.9" width="5.0" height="5.0" fill="rgba(255,255,255,0.85)" stroke="#b5570e" stroke-width="1.44"/>
<rect x="78.1" y="446.2" width="5.0" height="5.0" fill="rgba(255,255,255,0.85)" stroke="#b5570e" stroke-width="1.44"/>
<rect x="84.1" y="441.1" width="5.0" height="5.0" fill="rgba(255,255,255,0.85)" stroke="#b5570e" stroke-width="1.44"/>
<rect x="76.3" y="441.6" width="5.0" height="5.0" fill="rgba(255,255,255,0.85)" stroke="#b5570e" stroke-width="1.44"/>
<rect x="76.8" y="443.4" width="5.0" height="5.0" fill="rgba(255,255,255,0.85)" stroke="#b5570e" stroke-width="1.44"/>
<path d="M94.5 404.5 l6.2 6.2 M100.7 404.5 l-6.2 6.2" fill="none" stroke="#a34e0c" stroke-width="1.44" opacity="0.78"/>
<path d="M102.8 402.9 l6.2 6.2 M109.0 402.9 l-6.2 6.2" fill="none" stroke="#a34e0c" stroke-width="1.44" opacity="0.78"/>
<path d="M96.1 407.8 l6.2 6.2 M102.4 407.8 l-6.2 6.2" fill="none" stroke="#a34e0c" stroke-width="1.44" opacity="0.78"/>
<path d="M103.8 401.2 l6.2 6.2 M110.0 401.2 l-6.2 6.2" fill="none" stroke="#a34e0c" stroke-width="1.44" opacity="0.78"/>
<path d="M91.9 406.2 l6.2 6.2 M98.1 406.2 l-6.2 6.2" fill="none" stroke="#a34e0c" stroke-width="1.44" opacity="0.78"/>
<path d="M97.0 404.0 l6.2 6.2 M103.2 404.0 l-6.2 6.2" fill="none" stroke="#a34e0c" stroke-width="1.44" opacity="0.78"/>
<path d="M102.4 400.0 l6.2 6.2 M108.6 400.0 l-6.2 6.2" fill="none" stroke="#a34e0c" stroke-width="1.44" opacity="0.78"/>
<path d="M101.3 399.7 l6.2 6.2 M107.5 399.7 l-6.2 6.2" fill="none" stroke="#a34e0c" stroke-width="1.44" opacity="0.78"/>
<path d="M95.9 407.0 l6.2 6.2 M102.2 407.0 l-6.2 6.2" fill="none" stroke="#a34e0c" stroke-width="1.44" opacity="0.78"/>
<path d="M104.8 404.6 l6.2 6.2 M111.0 404.6 l-6.2 6.2" fill="none" stroke="#a34e0c" stroke-width="1.44" opacity="0.78"/>
<path d="M100.0 404.2 l6.2 6.2 M106.2 404.2 l-6.2 6.2" fill="none" stroke="#a34e0c" stroke-width="1.44" opacity="0.78"/>
<path d="M100.0 405.5 l6.2 6.2 M106.2 405.5 l-6.2 6.2" fill="none" stroke="#a34e0c" stroke-width="1.44" opacity="0.78"/>
<path d="M97.9 405.3 l6.2 6.2 M104.2 405.3 l-6.2 6.2" fill="none" stroke="#a34e0c" stroke-width="1.44" opacity="0.78"/>
<path d="M100.7 403.6 l6.2 6.2 M106.9 403.6 l-6.2 6.2" fill="none" stroke="#a34e0c" stroke-width="1.44" opacity="0.78"/>
<path d="M102.6 404.5 l6.2 6.2 M108.9 404.5 l-6.2 6.2" fill="none" stroke="#a34e0c" stroke-width="1.44" opacity="0.78"/>
<path d="M95.6 404.2 l6.2 6.2 M101.8 404.2 l-6.2 6.2" fill="none" stroke="#a34e0c" stroke-width="1.44" opacity="0.78"/>
<path d="M99.9 406.5 l6.2 6.2 M106.1 406.5 l-6.2 6.2" fill="none" stroke="#a34e0c" stroke-width="1.44" opacity="0.78"/>
<path d="M97.4 405.8 l6.2 6.2 M103.7 405.8 l-6.2 6.2" fill="none" stroke="#a34e0c" stroke-width="1.44" opacity="0.78"/>
<path d="M93.7 406.7 l6.2 6.2 M100.0 406.7 l-6.2 6.2" fill="none" stroke="#a34e0c" stroke-width="1.44" opacity="0.78"/>
<path d="M100.4 404.3 l6.2 6.2 M106.6 404.3 l-6.2 6.2" fill="none" stroke="#a34e0c" stroke-width="1.44" opacity="0.78"/>
<path d="M97.5 406.5 l6.2 6.2 M103.8 406.5 l-6.2 6.2" fill="none" stroke="#a34e0c" stroke-width="1.44" opacity="0.78"/>
<path d="M98.4 402.8 l6.2 6.2 M104.7 402.8 l-6.2 6.2" fill="none" stroke="#a34e0c" stroke-width="1.44" opacity="0.78"/>
<path d="M95.6 405.0 l6.2 6.2 M101.8 405.0 l-6.2 6.2" fill="none" stroke="#a34e0c" stroke-width="1.44" opacity="0.78"/>
<path d="M97.1 404.6 l6.2 6.2 M103.3 404.6 l-6.2 6.2" fill="none" stroke="#a34e0c" stroke-width="1.44" opacity="0.78"/>
<path d="M100.4 400.3 l6.2 6.2 M106.6 400.3 l-6.2 6.2" fill="none" stroke="#a34e0c" stroke-width="1.44" opacity="0.78"/>
<path d="M99.7 406.6 l6.2 6.2 M106.0 406.6 l-6.2 6.2" fill="none" stroke="#a34e0c" stroke-width="1.44" opacity="0.78"/>
<path d="M104.8 406.4 l6.2 6.2 M111.0 406.4 l-6.2 6.2" fill="none" stroke="#a34e0c" stroke-width="1.44" opacity="0.78"/>
<path d="M90.0 406.2 l6.2 6.2 M96.3 406.2 l-6.2 6.2" fill="none" stroke="#a34e0c" stroke-width="1.44" opacity="0.78"/>
<path d="M97.9 406.3 l6.2 6.2 M104.1 406.3 l-6.2 6.2" fill="none" stroke="#a34e0c" stroke-width="1.44" opacity="0.78"/>
<path d="M100.2 399.6 l6.2 6.2 M106.4 399.6 l-6.2 6.2" fill="none" stroke="#a34e0c" stroke-width="1.44" opacity="0.78"/>
<path d="M98.3 400.1 l6.2 6.2 M104.6 400.1 l-6.2 6.2" fill="none" stroke="#a34e0c" stroke-width="1.44" opacity="0.78"/>
<path d="M101.2 406.8 l6.2 6.2 M107.5 406.8 l-6.2 6.2" fill="none" stroke="#a34e0c" stroke-width="1.44" opacity="0.78"/>
<path d="M97.9 405.1 l6.2 6.2 M104.1 405.1 l-6.2 6.2" fill="none" stroke="#a34e0c" stroke-width="1.44" opacity="0.78"/>
<path d="M101.9 403.5 l6.2 6.2 M108.2 403.5 l-6.2 6.2" fill="none" stroke="#a34e0c" stroke-width="1.44" opacity="0.78"/>
<path d="M100.7 407.9 l6.2 6.2 M107.0 407.9 l-6.2 6.2" fill="none" stroke="#a34e0c" stroke-width="1.44" opacity="0.78"/>
<path d="M102.2 402.2 l6.2 6.2 M108.5 402.2 l-6.2 6.2" fill="none" stroke="#a34e0c" stroke-width="1.44" opacity="0.78"/>
<path d="M101.7 402.4 l6.2 6.2 M107.9 402.4 l-6.2 6.2" fill="none" stroke="#a34e0c" stroke-width="1.44" opacity="0.78"/>
<path d="M100.1 405.8 l6.2 6.2 M106.4 405.8 l-6.2 6.2" fill="none" stroke="#a34e0c" stroke-width="1.44" opacity="0.78"/>
<path d="M100.4 405.5 l6.2 6.2 M106.6 405.5 l-6.2 6.2" fill="none" stroke="#a34e0c" stroke-width="1.44" opacity="0.78"/>
<path d="M88.6 403.4 l6.2 6.2 M94.8 403.4 l-6.2 6.2" fill="none" stroke="#a34e0c" stroke-width="1.44" opacity="0.78"/>
<path d="M99.0 401.4 l6.2 6.2 M105.3 401.4 l-6.2 6.2" fill="none" stroke="#a34e0c" stroke-width="1.44" opacity="0.78"/>
<path d="M90.9 402.7 l6.2 6.2 M97.1 402.7 l-6.2 6.2" fill="none" stroke="#a34e0c" stroke-width="1.44" opacity="0.78"/>
<path d="M105.2 404.2 l6.2 6.2 M111.4 404.2 l-6.2 6.2" fill="none" stroke="#a34e0c" stroke-width="1.44" opacity="0.78"/>
<path d="M102.8 400.1 l6.2 6.2 M109.1 400.1 l-6.2 6.2" fill="none" stroke="#a34e0c" stroke-width="1.44" opacity="0.78"/>
<path d="M96.0 401.9 l6.2 6.2 M102.2 401.9 l-6.2 6.2" fill="none" stroke="#a34e0c" stroke-width="1.44" opacity="0.78"/>
<path d="M104.6 406.8 l6.2 6.2 M110.8 406.8 l-6.2 6.2" fill="none" stroke="#a34e0c" stroke-width="1.44" opacity="0.78"/>
<path d="M97.3 409.2 l6.2 6.2 M103.5 409.2 l-6.2 6.2" fill="none" stroke="#a34e0c" stroke-width="1.44" opacity="0.78"/>
<path d="M102.2 402.5 l6.2 6.2 M108.4 402.5 l-6.2 6.2" fill="none" stroke="#a34e0c" stroke-width="1.44" opacity="0.78"/>
<path d="M96.6 403.2 l6.2 6.2 M102.8 403.2 l-6.2 6.2" fill="none" stroke="#a34e0c" stroke-width="1.44" opacity="0.78"/>
<path d="M100.7 404.7 l6.2 6.2 M107.0 404.7 l-6.2 6.2" fill="none" stroke="#a34e0c" stroke-width="1.44" opacity="0.78"/>
<path d="M105.3 436.7 h6.6 M108.6 433.4 v6.6" fill="none" stroke="#1b76c9" stroke-width="2.04" opacity="0.65"/>
<path d="M86.4 436.8 h6.6 M89.7 433.5 v6.6" fill="none" stroke="#1b76c9" stroke-width="2.04" opacity="0.65"/>
<path d="M107.2 435.9 h6.6 M110.5 432.6 v6.6" fill="none" stroke="#1b76c9" stroke-width="2.04" opacity="0.65"/>
<path d="M91.5 435.2 h6.6 M94.8 432.0 v6.6" fill="none" stroke="#1b76c9" stroke-width="2.04" opacity="0.65"/>
<path d="M86.0 432.2 h6.6 M89.3 428.9 v6.6" fill="none" stroke="#1b76c9" stroke-width="2.04" opacity="0.65"/>
<path d="M107.0 435.8 h6.6 M110.3 432.5 v6.6" fill="none" stroke="#1b76c9" stroke-width="2.04" opacity="0.65"/>
<path d="M95.9 437.4 h6.6 M99.2 434.1 v6.6" fill="none" stroke="#1b76c9" stroke-width="2.04" opacity="0.65"/>
<path d="M93.6 437.1 h6.6 M96.8 433.8 v6.6" fill="none" stroke="#1b76c9" stroke-width="2.04" opacity="0.65"/>
<path d="M103.4 433.3 h6.6 M106.7 430.0 v6.6" fill="none" stroke="#1b76c9" stroke-width="2.04" opacity="0.65"/>
<path d="M89.0 433.8 h6.6 M92.3 430.5 v6.6" fill="none" stroke="#1b76c9" stroke-width="2.04" opacity="0.65"/>
<path d="M88.7 435.5 h6.6 M92.0 432.2 v6.6" fill="none" stroke="#1b76c9" stroke-width="2.04" opacity="0.65"/>
<path d="M89.2 434.5 h6.6 M92.5 431.2 v6.6" fill="none" stroke="#1b76c9" stroke-width="2.04" opacity="0.65"/>
<path d="M86.0 437.3 h6.6 M89.3 434.0 v6.6" fill="none" stroke="#1b76c9" stroke-width="2.04" opacity="0.65"/>
<path d="M91.6 434.7 h6.6 M94.8 431.4 v6.6" fill="none" stroke="#1b76c9" stroke-width="2.04" opacity="0.65"/>
<path d="M97.3 437.3 h6.6 M100.6 434.0 v6.6" fill="none" stroke="#1b76c9" stroke-width="2.04" opacity="0.65"/>
<path d="M93.2 437.3 h6.6 M96.5 434.1 v6.6" fill="none" stroke="#1b76c9" stroke-width="2.04" opacity="0.65"/>
<path d="M95.3 435.1 h6.6 M98.5 431.9 v6.6" fill="none" stroke="#1b76c9" stroke-width="2.04" opacity="0.65"/>
<path d="M95.8 432.2 h6.6 M99.1 429.0 v6.6" fill="none" stroke="#1b76c9" stroke-width="2.04" opacity="0.65"/>
<path d="M93.7 433.2 h6.6 M97.0 429.9 v6.6" fill="none" stroke="#1b76c9" stroke-width="2.04" opacity="0.65"/>
<path d="M82.8 436.7 h6.6 M86.1 433.4 v6.6" fill="none" stroke="#1b76c9" stroke-width="2.04" opacity="0.65"/>
<path d="M87.0 434.8 h6.6 M90.3 431.5 v6.6" fill="none" stroke="#1b76c9" stroke-width="2.04" opacity="0.65"/>
<path d="M100.9 435.3 h6.6 M104.1 432.0 v6.6" fill="none" stroke="#1b76c9" stroke-width="2.04" opacity="0.65"/>
<path d="M90.9 435.1 h6.6 M94.1 431.8 v6.6" fill="none" stroke="#1b76c9" stroke-width="2.04" opacity="0.65"/>
<path d="M96.6 436.6 h6.6 M99.9 433.3 v6.6" fill="none" stroke="#1b76c9" stroke-width="2.04" opacity="0.65"/>
<path d="M85.4 435.3 h6.6 M88.7 432.0 v6.6" fill="none" stroke="#1b76c9" stroke-width="2.04" opacity="0.65"/>
<path d="M88.9 433.7 h6.6 M92.2 430.4 v6.6" fill="none" stroke="#1b76c9" stroke-width="2.04" opacity="0.65"/>
<path d="M102.0 435.0 h6.6 M105.3 431.7 v6.6" fill="none" stroke="#1b76c9" stroke-width="2.04" opacity="0.65"/>
<path d="M96.8 436.4 h6.6 M100.0 433.2 v6.6" fill="none" stroke="#1b76c9" stroke-width="2.04" opacity="0.65"/>
<path d="M105.5 434.6 h6.6 M108.8 431.4 v6.6" fill="none" stroke="#1b76c9" stroke-width="2.04" opacity="0.65"/>
<path d="M98.0 435.0 h6.6 M101.3 431.7 v6.6" fill="none" stroke="#1b76c9" stroke-width="2.04" opacity="0.65"/>
<path d="M73.5 446.1 h6.6 M76.8 442.8 v6.6" fill="none" stroke="#a34e0c" stroke-width="1.95" opacity="0.49"/>
<path d="M74.8 447.5 h6.6 M78.1 444.3 v6.6" fill="none" stroke="#a34e0c" stroke-width="1.95" opacity="0.49"/>
<path d="M81.6 445.6 h6.6 M84.9 442.3 v6.6" fill="none" stroke="#a34e0c" stroke-width="1.95" opacity="0.49"/>
<path d="M80.1 445.0 h6.6 M83.3 441.8 v6.6" fill="none" stroke="#a34e0c" stroke-width="1.95" opacity="0.49"/>
<path d="M81.8 448.7 h6.6 M85.1 445.4 v6.6" fill="none" stroke="#a34e0c" stroke-width="1.95" opacity="0.49"/>
<path d="M81.4 447.4 h6.6 M84.7 444.1 v6.6" fill="none" stroke="#a34e0c" stroke-width="1.95" opacity="0.49"/>
<path d="M83.8 448.4 h6.6 M87.1 445.2 v6.6" fill="none" stroke="#a34e0c" stroke-width="1.95" opacity="0.49"/>
<path d="M82.3 450.4 h6.6 M85.5 447.1 v6.6" fill="none" stroke="#a34e0c" stroke-width="1.95" opacity="0.49"/>
<path d="M78.0 445.0 h6.6 M81.2 441.7 v6.6" fill="none" stroke="#a34e0c" stroke-width="1.95" opacity="0.49"/>
<path d="M75.7 448.5 h6.6 M79.0 445.2 v6.6" fill="none" stroke="#a34e0c" stroke-width="1.95" opacity="0.49"/>
<path d="M81.0 449.2 h6.6 M84.3 445.9 v6.6" fill="none" stroke="#a34e0c" stroke-width="1.95" opacity="0.49"/>
<path d="M75.8 446.2 h6.6 M79.0 442.9 v6.6" fill="none" stroke="#a34e0c" stroke-width="1.95" opacity="0.49"/>
<path d="M80.1 448.9 h6.6 M83.4 445.7 v6.6" fill="none" stroke="#a34e0c" stroke-width="1.95" opacity="0.49"/>
<path d="M78.9 445.8 h6.6 M82.2 442.6 v6.6" fill="none" stroke="#a34e0c" stroke-width="1.95" opacity="0.49"/>
<path d="M75.4 445.3 h6.6 M78.6 442.1 v6.6" fill="none" stroke="#a34e0c" stroke-width="1.95" opacity="0.49"/>
<path d="M82.2 446.7 h6.6 M85.5 443.5 v6.6" fill="none" stroke="#a34e0c" stroke-width="1.95" opacity="0.49"/>
<path d="M76.0 443.9 h6.6 M79.2 440.6 v6.6" fill="none" stroke="#a34e0c" stroke-width="1.95" opacity="0.49"/>
<path d="M81.3 447.9 h6.6 M84.5 444.6 v6.6" fill="none" stroke="#a34e0c" stroke-width="1.95" opacity="0.49"/>
<path d="M85.1 447.7 h6.6 M88.4 444.5 v6.6" fill="none" stroke="#a34e0c" stroke-width="1.95" opacity="0.49"/>
<path d="M78.8 448.0 h6.6 M82.1 444.7 v6.6" fill="none" stroke="#a34e0c" stroke-width="1.95" opacity="0.49"/>
<path d="M80.2 444.3 h6.6 M83.5 441.0 v6.6" fill="none" stroke="#a34e0c" stroke-width="1.95" opacity="0.49"/>
<path d="M74.0 444.4 h6.6 M77.3 441.1 v6.6" fill="none" stroke="#a34e0c" stroke-width="1.95" opacity="0.49"/>
<path d="M80.1 447.0 h6.6 M83.3 443.7 v6.6" fill="none" stroke="#a34e0c" stroke-width="1.95" opacity="0.49"/>
<path d="M77.6 443.5 h6.6 M80.9 440.2 v6.6" fill="none" stroke="#a34e0c" stroke-width="1.95" opacity="0.49"/>
<path d="M74.7 442.4 h6.6 M78.0 439.1 v6.6" fill="none" stroke="#a34e0c" stroke-width="1.95" opacity="0.49"/>
<path d="M85.2 449.4 h6.6 M88.4 446.2 v6.6" fill="none" stroke="#a34e0c" stroke-width="1.95" opacity="0.49"/>
<path d="M75.9 447.2 h6.6 M79.2 443.9 v6.6" fill="none" stroke="#a34e0c" stroke-width="1.95" opacity="0.49"/>
<path d="M78.8 448.0 h6.6 M82.1 444.7 v6.6" fill="none" stroke="#a34e0c" stroke-width="1.95" opacity="0.49"/>
<path d="M76.4 446.1 h6.6 M79.7 442.8 v6.6" fill="none" stroke="#a34e0c" stroke-width="1.95" opacity="0.49"/>
<path d="M80.7 447.6 h6.6 M84.0 444.3 v6.6" fill="none" stroke="#a34e0c" stroke-width="1.95" opacity="0.49"/>
<path d="M81.3 447.1 h6.6 M84.6 443.8 v6.6" fill="none" stroke="#a34e0c" stroke-width="1.95" opacity="0.49"/>
<path d="M77.9 448.8 h6.6 M81.1 445.5 v6.6" fill="none" stroke="#a34e0c" stroke-width="1.95" opacity="0.49"/>
<path d="M79.2 443.9 h6.6 M82.5 440.7 v6.6" fill="none" stroke="#a34e0c" stroke-width="1.95" opacity="0.49"/>
<path d="M76.8 446.4 h6.6 M80.0 443.2 v6.6" fill="none" stroke="#a34e0c" stroke-width="1.95" opacity="0.49"/>
<path d="M78.6 446.9 h6.6 M81.9 443.6 v6.6" fill="none" stroke="#a34e0c" stroke-width="1.95" opacity="0.49"/>
<path d="M79.0 447.0 h6.6 M82.3 443.7 v6.6" fill="none" stroke="#a34e0c" stroke-width="1.95" opacity="0.49"/>
<path d="M85.7 453.0 l2.8 5.6 l-5.6 0 z" fill="rgba(255,255,255,0.85)" stroke="#1b76c9" stroke-width="1.61" stroke-linejoin="miter"/>
<path d="M99.0 455.0 l2.8 5.6 l-5.6 0 z" fill="rgba(255,255,255,0.85)" stroke="#1b76c9" stroke-width="1.61" stroke-linejoin="miter"/>
<path d="M93.0 451.4 l2.8 5.6 l-5.6 0 z" fill="rgba(255,255,255,0.85)" stroke="#1b76c9" stroke-width="1.61" stroke-linejoin="miter"/>
<path d="M106.0 450.5 l2.8 5.6 l-5.6 0 z" fill="rgba(255,255,255,0.85)" stroke="#1b76c9" stroke-width="1.61" stroke-linejoin="miter"/>
<path d="M88.5 444.8 l2.8 5.6 l-5.6 0 z" fill="rgba(255,255,255,0.85)" stroke="#1b76c9" stroke-width="1.61" stroke-linejoin="miter"/>
<path d="M99.5 443.5 l2.8 5.6 l-5.6 0 z" fill="rgba(255,255,255,0.85)" stroke="#1b76c9" stroke-width="1.61" stroke-linejoin="miter"/>
<path d="M105.0 444.5 l2.8 5.6 l-5.6 0 z" fill="rgba(255,255,255,0.85)" stroke="#1b76c9" stroke-width="1.61" stroke-linejoin="miter"/>
<path d="M94.0 446.4 l2.8 5.6 l-5.6 0 z" fill="rgba(255,255,255,0.85)" stroke="#1b76c9" stroke-width="1.61" stroke-linejoin="miter"/>
<path d="M101.0 448.9 l2.8 5.6 l-5.6 0 z" fill="rgba(255,255,255,0.85)" stroke="#1b76c9" stroke-width="1.61" stroke-linejoin="miter"/>
<path d="M90.0 448.9 l2.8 5.6 l-5.6 0 z" fill="rgba(255,255,255,0.85)" stroke="#1b76c9" stroke-width="1.61" stroke-linejoin="miter"/>
<path d="M96.0 441.9 l2.8 5.6 l-5.6 0 z" fill="rgba(255,255,255,0.85)" stroke="#1b76c9" stroke-width="1.61" stroke-linejoin="miter"/>
<path d="M103.0 452.7 l2.8 5.6 l-5.6 0 z" fill="rgba(255,255,255,0.85)" stroke="#1b76c9" stroke-width="1.61" stroke-linejoin="miter"/>
<path d="M86.0 448.9 l2.8 5.6 l-5.6 0 z" fill="rgba(255,255,255,0.85)" stroke="#1b76c9" stroke-width="1.61" stroke-linejoin="miter"/>
<path d="M108.0 447.0 l2.8 5.6 l-5.6 0 z" fill="rgba(255,255,255,0.85)" stroke="#1b76c9" stroke-width="1.61" stroke-linejoin="miter"/>
<path d="M97.0 452.0 l2.8 5.6 l-5.6 0 z" fill="rgba(255,255,255,0.85)" stroke="#1b76c9" stroke-width="1.61" stroke-linejoin="miter"/>
<text x="102.4" y="391.5" font-size="11" fill="#000" class="k">Lode Au</text>
<text x="156.9" y="416.7" font-size="11" fill="#000" class="k">Epithermal</text>
<text x="148.3" y="450.6" font-size="10.45" fill="#000" class="k">Irish-type</text>
<text x="181.2" y="478.4" font-size="11" fill="#000" class="k">MVT</text>
<text x="61.7" y="498.5" font-size="11" fill="#000" class="k">Kuroko</text>
<text x="299.6" y="380.6" font-size="11" fill="#000" class="k">Sn-W</text>
<text x="386.5" y="321.9" font-size="11" fill="#000" class="k">Skarn</text>
<text x="435.4" y="303.6" font-size="11" fill="#000" class="k">Porphyry</text>
<path d="M98.8 389.2 L83.0 401.8" stroke="#000" stroke-width="0.9" fill="none"/>
<path d="M77.9 405.8 L81.4 399.7 L84.6 403.8 z" fill="#000"/>
<path d="M153.4 415.6 L136.4 421.3" stroke="#000" stroke-width="0.9" fill="none"/>
<path d="M130.2 423.4 L135.5 418.9 L137.2 423.8 z" fill="#000"/>
<path d="M70.2 488.4 L75.3 476.4" stroke="#000" stroke-width="0.9" fill="none"/>
<path d="M77.8 470.4 L77.7 477.4 L72.9 475.4 z" fill="#000"/>
<rect x="52.5" y="289.4" width="432.0" height="215.6" fill="none" stroke="#404040" stroke-width="1"/>
<path d="M52.5 505.0 v3.6 M64.8 505.0 v3.6 M77.2 505.0 v3.6 M89.5 505.0 v3.6 M101.9 505.0 v3.6 M114.2 505.0 v3.6 M126.6 505.0 v3.6 M138.9 505.0 v3.6 M151.2 505.0 v3.6 M163.6 505.0 v3.6 M175.9 505.0 v3.6 M188.3 505.0 v3.6 M200.6 505.0 v3.6 M213.0 505.0 v3.6 M225.3 505.0 v3.6 M237.6 505.0 v3.6 M250.0 505.0 v3.6 M262.3 505.0 v3.6 M274.7 505.0 v3.6 M287.0 505.0 v3.6 M299.4 505.0 v3.6 M311.7 505.0 v3.6 M324.0 505.0 v3.6 M336.4 505.0 v3.6 M348.7 505.0 v3.6 M361.1 505.0 v3.6 M373.4 505.0 v3.6 M385.8 505.0 v3.6 M398.1 505.0 v3.6 M410.4 505.0 v3.6 M422.8 505.0 v3.6 M435.1 505.0 v3.6 M447.5 505.0 v3.6 M459.8 505.0 v3.6 M472.2 505.0 v3.6 M484.5 505.0 v3.6 M52.5 505.0 h-3.6 M52.5 490.6 h-3.6 M52.5 476.3 h-3.6 M52.5 461.9 h-3.6 M52.5 447.5 h-3.6 M52.5 433.1 h-3.6 M52.5 418.8 h-3.6 M52.5 404.4 h-3.6 M52.5 390.0 h-3.6 M52.5 375.6 h-3.6 M52.5 361.3 h-3.6 M52.5 346.9 h-3.6 M52.5 332.5 h-3.6 M52.5 318.1 h-3.6 M52.5 303.8 h-3.6 M52.5 289.4 h-3.6" stroke="#404040" stroke-width="1" fill="none"/>
<text x="52.5" y="522.1" font-size="11" text-anchor="middle" fill="#000" class="k">0</text>
<text x="114.2" y="522.1" font-size="11" text-anchor="middle" fill="#000" class="k">10</text>
<text x="175.9" y="522.1" font-size="11" text-anchor="middle" fill="#000" class="k">20</text>
<text x="237.6" y="522.1" font-size="11" text-anchor="middle" fill="#000" class="k">30</text>
<text x="299.4" y="522.1" font-size="11" text-anchor="middle" fill="#000" class="k">40</text>
<text x="361.1" y="522.1" font-size="11" text-anchor="middle" fill="#000" class="k">50</text>
<text x="422.8" y="522.1" font-size="11" text-anchor="middle" fill="#000" class="k">60</text>
<text x="484.5" y="522.1" font-size="11" text-anchor="middle" fill="#000" class="k">70</text>
<text x="43.3" y="509.1" font-size="11" text-anchor="end" fill="#000" class="k">0</text>
<text x="43.3" y="480.3" font-size="11" text-anchor="end" fill="#000" class="k">100</text>
<text x="43.3" y="451.6" font-size="11" text-anchor="end" fill="#000" class="k">200</text>
<text x="43.3" y="422.8" font-size="11" text-anchor="end" fill="#000" class="k">300</text>
<text x="43.3" y="394.1" font-size="11" text-anchor="end" fill="#000" class="k">400</text>
<text x="43.3" y="365.3" font-size="11" text-anchor="end" fill="#000" class="k">500</text>
<text x="43.3" y="336.6" font-size="11" text-anchor="end" fill="#000" class="k">600</text>
<text x="43.3" y="307.8" font-size="11" text-anchor="end" fill="#000" class="k">700</text>
<text x="6.6" y="322.2" font-size="14" fill="#000" class="k">b</text>
<text transform="translate(15.6 424.4) rotate(-90)" font-size="14.4" letter-spacing="0.25" fill="#000" class="k">T<tspan font-size="8.2" dy="3" letter-spacing="0.55">hom,</tspan><tspan dy="-3" dx="3.2"> °C</tspan></text>
<text x="193.3" y="541.6" font-size="14.4" letter-spacing="0.19" fill="#000" class="k">Salinity, wt. % (NaCl<tspan font-size="8.6" dy="3" letter-spacing="0.2">eq.</tspan><tspan dy="-3">)</tspan></text>
</svg>
</body></html>
